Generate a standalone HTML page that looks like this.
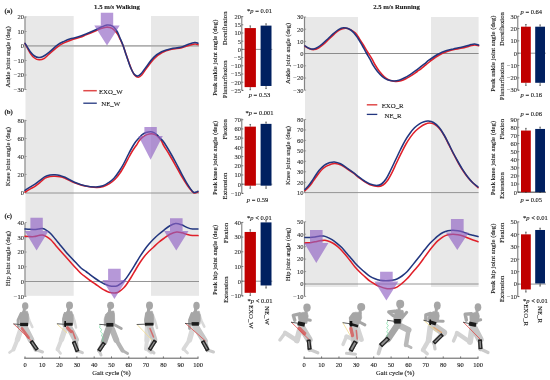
<!DOCTYPE html><html><head><meta charset="utf-8"><title>Joint angles</title>
<style>html,body{margin:0;padding:0;background:#fff;}svg{display:block;}text{font-family:"Liberation Serif", "DejaVu Serif", serif;}</style></head><body>
<svg width="550" height="380" viewBox="0 0 550 380">
<rect x="25.5" y="16" width="48.2" height="279.8" fill="#e8e8e8"/>
<rect x="151" y="16" width="48" height="279.8" fill="#e8e8e8"/>
<rect x="305" y="17" width="53" height="270" fill="#e8e8e8"/>
<rect x="431" y="17" width="47.6" height="270" fill="#e8e8e8"/>
<text x="117" y="8.6" font-size="6.7" text-anchor="middle" font-weight="bold" fill="#1a1a1a" stroke="#1a1a1a" stroke-width="0.12">1.5 m/s Walking</text>
<text x="396.5" y="8.6" font-size="6.7" text-anchor="middle" font-weight="bold" fill="#1a1a1a" stroke="#1a1a1a" stroke-width="0.12">2.5 m/s Running</text>
<text x="4.5" y="12.6" font-size="6.8" text-anchor="start" font-weight="bold" fill="#1a1a1a" stroke="#1a1a1a" stroke-width="0.12">(a)</text>
<text x="4.5" y="114.3" font-size="6.8" text-anchor="start" font-weight="bold" fill="#1a1a1a" stroke="#1a1a1a" stroke-width="0.12">(b)</text>
<text x="4.5" y="218" font-size="6.8" text-anchor="start" font-weight="bold" fill="#1a1a1a" stroke="#1a1a1a" stroke-width="0.12">(c)</text>
<line x1="25" y1="16.5" x2="25" y2="90" stroke="#858585" stroke-width="1.2"/>
<line x1="25" y1="17" x2="26.6" y2="17" stroke="#8a8a8a" stroke-width="0.8"/>
<text x="23.9" y="19.3" font-size="6.5" text-anchor="end" font-weight="normal" fill="#333" stroke="#333" stroke-width="0.12">20</text>
<line x1="25" y1="31.5" x2="26.6" y2="31.5" stroke="#8a8a8a" stroke-width="0.8"/>
<text x="23.9" y="33.8" font-size="6.5" text-anchor="end" font-weight="normal" fill="#333" stroke="#333" stroke-width="0.12">10</text>
<line x1="25" y1="46" x2="26.6" y2="46" stroke="#8a8a8a" stroke-width="0.8"/>
<text x="23.9" y="48.3" font-size="6.5" text-anchor="end" font-weight="normal" fill="#333" stroke="#333" stroke-width="0.12">0</text>
<line x1="25" y1="60.5" x2="26.6" y2="60.5" stroke="#8a8a8a" stroke-width="0.8"/>
<text x="23.9" y="62.8" font-size="6.5" text-anchor="end" font-weight="normal" fill="#333" stroke="#333" stroke-width="0.12">&#8722;10</text>
<line x1="25" y1="75" x2="26.6" y2="75" stroke="#8a8a8a" stroke-width="0.8"/>
<text x="23.9" y="77.3" font-size="6.5" text-anchor="end" font-weight="normal" fill="#333" stroke="#333" stroke-width="0.12">&#8722;20</text>
<line x1="25" y1="89.5" x2="26.6" y2="89.5" stroke="#8a8a8a" stroke-width="0.8"/>
<text x="23.9" y="91.8" font-size="6.5" text-anchor="end" font-weight="normal" fill="#333" stroke="#333" stroke-width="0.12">&#8722;30</text>
<line x1="25" y1="45.9" x2="199" y2="45.9" stroke="#b0b0b0" stroke-width="1.8"/>
<text x="10.4" y="56.9" font-size="6.6" text-anchor="middle" font-weight="normal" fill="#1a1a1a" stroke="#1a1a1a" stroke-width="0.12" transform="rotate(-90 10.4 56.9)">Ankle joint angle (deg)</text>
<path d="M25,43.5 C25.88,45.13 28.72,50.88 30.3,53.3 C31.88,55.72 33.03,56.92 34.5,58 C35.97,59.08 37.52,59.7 39.1,59.8 C40.68,59.9 42.35,59.53 44,58.6 C45.65,57.67 46.73,56.17 49,54.2 C51.27,52.23 55.1,48.68 57.6,46.8 C60.1,44.92 61.72,44.05 64,42.9 C66.28,41.75 68.63,40.83 71.3,39.9 C73.97,38.97 77.55,38.13 80,37.3 C82.45,36.47 83.45,35.95 86,34.9 C88.55,33.85 92.8,32.07 95.3,31 C97.8,29.93 99.22,29.13 101,28.5 C102.78,27.87 104.5,27.35 106,27.2 C107.5,27.05 108.67,27.17 110,27.6 C111.33,28.03 112.73,28.7 114,29.8 C115.27,30.9 116.52,32.5 117.6,34.2 C118.68,35.9 119.53,37.95 120.5,40 C121.47,42.05 122.45,44.03 123.4,46.5 C124.35,48.97 125.27,52.08 126.2,54.8 C127.13,57.52 128.08,60.3 129,62.8 C129.92,65.3 130.75,67.73 131.7,69.8 C132.65,71.87 133.6,73.97 134.7,75.2 C135.8,76.43 137.13,77.23 138.3,77.2 C139.47,77.17 140.33,76.5 141.7,75 C143.07,73.5 144.38,70.97 146.5,68.2 C148.62,65.43 151.78,61.02 154.4,58.4 C157.02,55.78 159.35,54.02 162.2,52.5 C165.05,50.98 168.37,50.07 171.5,49.3 C174.63,48.53 178.08,48.53 181,47.9 C183.92,47.27 186.67,46.15 189,45.5 C191.33,44.85 193.5,44.15 195,44 C196.5,43.85 197.5,44.5 198,44.6" fill="none" stroke="#e0202a" stroke-width="1.55" stroke-linejoin="round" stroke-linecap="round"/>
<path d="M25,43.3 C25.88,44.72 28.72,49.68 30.3,51.8 C31.88,53.92 33.08,55.05 34.5,56 C35.92,56.95 37.38,57.42 38.8,57.5 C40.22,57.58 41.3,57.37 43,56.5 C44.7,55.63 46.57,54.23 49,52.3 C51.43,50.37 55.1,46.72 57.6,44.9 C60.1,43.08 61.72,42.45 64,41.4 C66.28,40.35 68.63,39.45 71.3,38.6 C73.97,37.75 77.55,37.07 80,36.3 C82.45,35.53 83.45,35.05 86,34 C88.55,32.95 92.63,31.2 95.3,30 C97.97,28.8 100.05,27.63 102,26.8 C103.95,25.97 105.58,25.25 107,25 C108.42,24.75 109.33,24.93 110.5,25.3 C111.67,25.67 112.85,26.08 114,27.2 C115.15,28.32 116.4,30.2 117.4,32 C118.4,33.8 119.08,35.83 120,38 C120.92,40.17 121.98,42.5 122.9,45 C123.82,47.5 124.58,50.23 125.5,53 C126.42,55.77 127.48,59.02 128.4,61.6 C129.32,64.18 130.07,66.43 131,68.5 C131.93,70.57 132.9,72.73 134,74 C135.1,75.27 136.43,76.13 137.6,76.1 C138.77,76.07 139.63,75.25 141,73.8 C142.37,72.35 143.68,70.13 145.8,67.4 C147.92,64.67 151.07,60 153.7,57.4 C156.33,54.8 158.72,53.25 161.6,51.8 C164.48,50.35 167.85,49.45 171,48.7 C174.15,47.95 177.58,48.05 180.5,47.3 C183.42,46.55 186.12,45 188.5,44.2 C190.88,43.4 193.22,42.67 194.8,42.5 C196.38,42.33 197.47,43.08 198,43.2" fill="none" stroke="#22367f" stroke-width="1.55" stroke-linejoin="round" stroke-linecap="round"/>
<polygon points="100.8,12.7 113.2,12.7 113.2,25.6 119.7,25.6 107,45.5 94.3,25.6 100.8,25.6" fill="#8f61c3" fill-opacity="0.65"/>
<line x1="83.3" y1="90.7" x2="96.8" y2="90.7" stroke="#e04a4a" stroke-width="1.5"/>
<text x="98.9" y="93.9" font-size="6.8" text-anchor="start" font-weight="normal" fill="#1a1a1a" stroke="#1a1a1a" stroke-width="0.12">EXO_W</text>
<line x1="83.3" y1="103.2" x2="96.8" y2="103.2" stroke="#22367f" stroke-width="1.3"/>
<text x="101.3" y="106.4" font-size="6.8" text-anchor="start" font-weight="normal" fill="#1a1a1a" stroke="#1a1a1a" stroke-width="0.12">NE_W</text>
<line x1="25" y1="119.8" x2="25" y2="192.4" stroke="#858585" stroke-width="1.2"/>
<line x1="25" y1="120.6" x2="26.6" y2="120.6" stroke="#8a8a8a" stroke-width="0.8"/>
<text x="23.9" y="122.9" font-size="6.5" text-anchor="end" font-weight="normal" fill="#333" stroke="#333" stroke-width="0.12">80</text>
<line x1="25" y1="138.55" x2="26.6" y2="138.55" stroke="#8a8a8a" stroke-width="0.8"/>
<text x="23.9" y="140.85" font-size="6.5" text-anchor="end" font-weight="normal" fill="#333" stroke="#333" stroke-width="0.12">60</text>
<line x1="25" y1="156.5" x2="26.6" y2="156.5" stroke="#8a8a8a" stroke-width="0.8"/>
<text x="23.9" y="158.8" font-size="6.5" text-anchor="end" font-weight="normal" fill="#333" stroke="#333" stroke-width="0.12">40</text>
<line x1="25" y1="174.45" x2="26.6" y2="174.45" stroke="#8a8a8a" stroke-width="0.8"/>
<text x="23.9" y="176.75" font-size="6.5" text-anchor="end" font-weight="normal" fill="#333" stroke="#333" stroke-width="0.12">20</text>
<line x1="25" y1="192.4" x2="26.6" y2="192.4" stroke="#8a8a8a" stroke-width="0.8"/>
<text x="23.9" y="194.7" font-size="6.5" text-anchor="end" font-weight="normal" fill="#333" stroke="#333" stroke-width="0.12">0</text>
<line x1="25" y1="193" x2="199" y2="193" stroke="#8a8a8a" stroke-width="0.9"/>
<text x="10.4" y="156.7" font-size="6.6" text-anchor="middle" font-weight="normal" fill="#1a1a1a" stroke="#1a1a1a" stroke-width="0.12" transform="rotate(-90 10.4 156.7)">Knee joint angle (deg)</text>
<path d="M25,192.2 C25.83,191.68 28.33,190.08 30,189.1 C31.67,188.12 33.33,187.4 35,186.3 C36.67,185.2 38.33,183.85 40,182.5 C41.67,181.15 43.33,179.2 45,178.2 C46.67,177.2 48.33,176.82 50,176.5 C51.67,176.18 53.33,176.25 55,176.3 C56.67,176.35 58.33,176.47 60,176.8 C61.67,177.13 62.58,177.32 65,178.3 C67.42,179.28 71.17,181.42 74.5,182.7 C77.83,183.98 81.33,185.2 85,186 C88.67,186.8 93.42,187.42 96.5,187.5 C99.58,187.58 101.33,187.15 103.5,186.5 C105.67,185.85 107.58,184.8 109.5,183.6 C111.42,182.4 113.25,181.07 115,179.3 C116.75,177.53 118.37,175.38 120,173 C121.63,170.62 123.25,167.75 124.8,165 C126.35,162.25 127.98,158.92 129.3,156.5 C130.62,154.08 131.55,152.33 132.7,150.5 C133.85,148.67 135.12,147.12 136.2,145.5 C137.28,143.88 138.12,142.18 139.2,140.8 C140.28,139.42 141.4,138.23 142.7,137.2 C144,136.17 145.53,135.18 147,134.6 C148.47,134.02 150.17,133.7 151.5,133.7 C152.83,133.7 153.92,134.08 155,134.6 C156.08,135.12 156.92,135.73 158,136.8 C159.08,137.87 160.55,139.55 161.5,141 C162.45,142.45 162.35,143.17 163.7,145.5 C165.05,147.83 167.63,151.7 169.6,155 C171.57,158.3 173.52,161.77 175.5,165.3 C177.48,168.83 179.48,172.78 181.5,176.2 C183.52,179.62 185.93,183.38 187.6,185.8 C189.27,188.22 190.43,189.5 191.5,190.7 C192.57,191.9 193.17,192.68 194,193 C194.83,193.32 195.83,192.77 196.5,192.6 C197.17,192.43 197.75,192.1 198,192" fill="none" stroke="#e0202a" stroke-width="1.55" stroke-linejoin="round" stroke-linecap="round"/>
<path d="M25,190.3 C25.83,189.77 28.33,188.12 30,187.1 C31.67,186.08 33.33,185.32 35,184.2 C36.67,183.08 38.33,181.67 40,180.4 C41.67,179.13 43.33,177.5 45,176.6 C46.67,175.7 48.33,175.3 50,175 C51.67,174.7 53.33,174.7 55,174.8 C56.67,174.9 58.33,175.18 60,175.6 C61.67,176.02 62.58,176.2 65,177.3 C67.42,178.4 71.17,180.8 74.5,182.2 C77.83,183.6 81.47,184.9 85,185.7 C88.53,186.5 92.7,186.98 95.7,187 C98.7,187.02 100.83,186.53 103,185.8 C105.17,185.07 106.87,183.87 108.7,182.6 C110.53,181.33 112.28,180.05 114,178.2 C115.72,176.35 117.37,173.95 119,171.5 C120.63,169.05 122.25,166.33 123.8,163.5 C125.35,160.67 127.02,157 128.3,154.5 C129.58,152 130.42,150.42 131.5,148.5 C132.58,146.58 133.63,144.67 134.8,143 C135.97,141.33 137.32,139.85 138.5,138.5 C139.68,137.15 140.65,135.88 141.9,134.9 C143.15,133.92 144.53,133.13 146,132.6 C147.47,132.07 149.37,131.7 150.7,131.7 C152.03,131.7 152.95,132.08 154,132.6 C155.05,133.12 155.92,133.82 157,134.8 C158.08,135.78 159.38,137.3 160.5,138.5 C161.62,139.7 162.18,139.83 163.7,142 C165.22,144.17 167.63,148.17 169.6,151.5 C171.57,154.83 173.52,158.32 175.5,162 C177.48,165.68 179.52,169.9 181.5,173.6 C183.48,177.3 185.82,181.55 187.4,184.2 C188.98,186.85 189.98,188.15 191,189.5 C192.02,190.85 192.67,191.87 193.5,192.3 C194.33,192.73 195.25,192.27 196,192.1 C196.75,191.93 197.67,191.43 198,191.3" fill="none" stroke="#22367f" stroke-width="1.55" stroke-linejoin="round" stroke-linecap="round"/>
<polygon points="144.4,127 156.8,127 156.8,136 162.8,136 150.6,159.8 138.4,136 144.4,136" fill="#8f61c3" fill-opacity="0.65"/>
<line x1="25" y1="222.8" x2="25" y2="297" stroke="#858585" stroke-width="1.2"/>
<line x1="25" y1="222.54" x2="26.6" y2="222.54" stroke="#8a8a8a" stroke-width="0.8"/>
<text x="23.9" y="224.84" font-size="6.5" text-anchor="end" font-weight="normal" fill="#333" stroke="#333" stroke-width="0.12">40</text>
<line x1="25" y1="237.28" x2="26.6" y2="237.28" stroke="#8a8a8a" stroke-width="0.8"/>
<text x="23.9" y="239.58" font-size="6.5" text-anchor="end" font-weight="normal" fill="#333" stroke="#333" stroke-width="0.12">30</text>
<line x1="25" y1="252.02" x2="26.6" y2="252.02" stroke="#8a8a8a" stroke-width="0.8"/>
<text x="23.9" y="254.32" font-size="6.5" text-anchor="end" font-weight="normal" fill="#333" stroke="#333" stroke-width="0.12">20</text>
<line x1="25" y1="266.76" x2="26.6" y2="266.76" stroke="#8a8a8a" stroke-width="0.8"/>
<text x="23.9" y="269.06" font-size="6.5" text-anchor="end" font-weight="normal" fill="#333" stroke="#333" stroke-width="0.12">10</text>
<line x1="25" y1="281.5" x2="26.6" y2="281.5" stroke="#8a8a8a" stroke-width="0.8"/>
<text x="23.9" y="283.8" font-size="6.5" text-anchor="end" font-weight="normal" fill="#333" stroke="#333" stroke-width="0.12">0</text>
<line x1="25" y1="296.24" x2="26.6" y2="296.24" stroke="#8a8a8a" stroke-width="0.8"/>
<text x="23.9" y="298.54" font-size="6.5" text-anchor="end" font-weight="normal" fill="#333" stroke="#333" stroke-width="0.12">&#8722;10</text>
<line x1="25" y1="281.5" x2="199" y2="281.5" stroke="#8a8a8a" stroke-width="0.9"/>
<text x="10.4" y="258.6" font-size="6.6" text-anchor="middle" font-weight="normal" fill="#1a1a1a" stroke="#1a1a1a" stroke-width="0.12" transform="rotate(-90 10.4 258.6)">Hip joint angle (deg)</text>
<path d="M25,236.2 C25.75,236.27 27.97,236.53 29.5,236.6 C31.03,236.67 32.7,236.77 34.2,236.6 C35.7,236.43 37.12,235.87 38.5,235.6 C39.88,235.33 41.17,234.83 42.5,235 C43.83,235.17 45.12,235.8 46.5,236.6 C47.88,237.4 49.3,238.37 50.8,239.8 C52.3,241.23 53.92,243.38 55.5,245.2 C57.08,247.02 58.63,248.8 60.3,250.7 C61.97,252.6 63.72,254.6 65.5,256.6 C67.28,258.6 69.17,260.68 71,262.7 C72.83,264.72 74.73,266.82 76.5,268.7 C78.27,270.58 80.02,272.57 81.6,274 C83.18,275.43 84.6,276.22 86,277.3 C87.4,278.38 88.45,279.38 90,280.5 C91.55,281.62 93.63,282.87 95.3,284 C96.97,285.13 98.47,286.28 100,287.3 C101.53,288.32 103,289.28 104.5,290.1 C106,290.92 107.42,291.72 109,292.2 C110.58,292.68 112.58,292.95 114,293 C115.42,293.05 116.42,292.88 117.5,292.5 C118.58,292.12 119.5,291.45 120.5,290.7 C121.5,289.95 122.5,289.03 123.5,288 C124.5,286.97 125.25,286.25 126.5,284.5 C127.75,282.75 129.37,280.17 131,277.5 C132.63,274.83 134.72,271.12 136.3,268.5 C137.88,265.88 139.07,263.92 140.5,261.8 C141.93,259.68 143.48,257.57 144.9,255.8 C146.32,254.03 147.58,252.63 149,251.2 C150.42,249.77 151.82,248.65 153.4,247.2 C154.98,245.75 156.78,243.95 158.5,242.5 C160.22,241.05 161.78,239.88 163.7,238.5 C165.62,237.12 167.83,235.28 170,234.2 C172.17,233.12 174.7,232.23 176.7,232 C178.7,231.77 180.22,232.4 182,232.8 C183.78,233.2 185.65,233.97 187.4,234.4 C189.15,234.83 190.73,235.2 192.5,235.4 C194.27,235.6 197.08,235.57 198,235.6" fill="none" stroke="#e0202a" stroke-width="1.55" stroke-linejoin="round" stroke-linecap="round"/>
<path d="M25,229 C25.75,229.05 27.97,229.23 29.5,229.3 C31.03,229.37 32.7,229.45 34.2,229.4 C35.7,229.35 37.12,229.13 38.5,229 C39.88,228.87 41.17,228.38 42.5,228.6 C43.83,228.82 45.12,229.45 46.5,230.3 C47.88,231.15 49.3,232.2 50.8,233.7 C52.3,235.2 53.92,237.38 55.5,239.3 C57.08,241.22 58.63,243.18 60.3,245.2 C61.97,247.22 63.72,249.35 65.5,251.4 C67.28,253.45 69.17,255.52 71,257.5 C72.83,259.48 74.73,261.47 76.5,263.3 C78.27,265.13 80.02,267.13 81.6,268.5 C83.18,269.87 84.6,270.48 86,271.5 C87.4,272.52 88.45,273.43 90,274.6 C91.55,275.77 93.63,277.33 95.3,278.5 C96.97,279.67 98.47,280.68 100,281.6 C101.53,282.52 103,283.32 104.5,284 C106,284.68 107.42,285.32 109,285.7 C110.58,286.08 112.58,286.3 114,286.3 C115.42,286.3 116.42,286.1 117.5,285.7 C118.58,285.3 119.5,284.62 120.5,283.9 C121.5,283.18 122.5,282.4 123.5,281.4 C124.5,280.4 125.25,279.6 126.5,277.9 C127.75,276.2 129.37,273.77 131,271.2 C132.63,268.63 134.72,265.08 136.3,262.5 C137.88,259.92 139.07,257.92 140.5,255.7 C141.93,253.48 143.48,251.15 144.9,249.2 C146.32,247.25 147.58,245.67 149,244 C150.42,242.33 151.82,240.78 153.4,239.2 C154.98,237.62 156.78,235.98 158.5,234.5 C160.22,233.02 161.87,231.72 163.7,230.3 C165.53,228.88 167.53,227.12 169.5,226 C171.47,224.88 173.5,223.8 175.5,223.6 C177.5,223.4 179.52,224.13 181.5,224.8 C183.48,225.47 185.57,226.9 187.4,227.6 C189.23,228.3 190.73,228.77 192.5,229 C194.27,229.23 197.08,229 198,229" fill="none" stroke="#22367f" stroke-width="1.55" stroke-linejoin="round" stroke-linecap="round"/>
<polygon points="30.4,217.8 42.8,217.8 42.8,230.9 48.5,230.9 36.6,250.5 24.7,230.9 30.4,230.9" fill="#8f61c3" fill-opacity="0.65"/>
<polygon points="108.1,268.7 120.7,268.7 120.7,280 126.4,280 114.4,299 102.4,280 108.1,280" fill="#8f61c3" fill-opacity="0.65"/>
<polygon points="170,218.3 182.6,218.3 182.6,231 188.5,231 176.3,250.5 164.1,231 170,231" fill="#8f61c3" fill-opacity="0.65"/>
<line x1="304.5" y1="16.8" x2="304.5" y2="90.3" stroke="#858585" stroke-width="1.2"/>
<line x1="304.5" y1="17" x2="306.1" y2="17" stroke="#8a8a8a" stroke-width="0.8"/>
<text x="303.4" y="19.3" font-size="6.5" text-anchor="end" font-weight="normal" fill="#333" stroke="#333" stroke-width="0.12">30</text>
<line x1="304.5" y1="29.2" x2="306.1" y2="29.2" stroke="#8a8a8a" stroke-width="0.8"/>
<text x="303.4" y="31.5" font-size="6.5" text-anchor="end" font-weight="normal" fill="#333" stroke="#333" stroke-width="0.12">20</text>
<line x1="304.5" y1="41.4" x2="306.1" y2="41.4" stroke="#8a8a8a" stroke-width="0.8"/>
<text x="303.4" y="43.7" font-size="6.5" text-anchor="end" font-weight="normal" fill="#333" stroke="#333" stroke-width="0.12">10</text>
<line x1="304.5" y1="53.6" x2="306.1" y2="53.6" stroke="#8a8a8a" stroke-width="0.8"/>
<text x="303.4" y="55.9" font-size="6.5" text-anchor="end" font-weight="normal" fill="#333" stroke="#333" stroke-width="0.12">0</text>
<line x1="304.5" y1="65.8" x2="306.1" y2="65.8" stroke="#8a8a8a" stroke-width="0.8"/>
<text x="303.4" y="68.1" font-size="6.5" text-anchor="end" font-weight="normal" fill="#333" stroke="#333" stroke-width="0.12">&#8722;10</text>
<line x1="304.5" y1="78" x2="306.1" y2="78" stroke="#8a8a8a" stroke-width="0.8"/>
<text x="303.4" y="80.3" font-size="6.5" text-anchor="end" font-weight="normal" fill="#333" stroke="#333" stroke-width="0.12">&#8722;20</text>
<line x1="304.5" y1="90.2" x2="306.1" y2="90.2" stroke="#8a8a8a" stroke-width="0.8"/>
<text x="303.4" y="92.5" font-size="6.5" text-anchor="end" font-weight="normal" fill="#333" stroke="#333" stroke-width="0.12">&#8722;30</text>
<line x1="304.5" y1="53.5" x2="478.6" y2="53.5" stroke="#808080" stroke-width="0.9"/>
<text x="289.8" y="53.4" font-size="6.6" text-anchor="middle" font-weight="normal" fill="#1a1a1a" stroke="#1a1a1a" stroke-width="0.12" transform="rotate(-90 289.8 53.4)">Ankle joint angle (deg)</text>
<path d="M305,46.3 C305.75,46.7 308,48.15 309.5,48.7 C311,49.25 312.5,49.72 314,49.6 C315.5,49.48 317,48.82 318.5,48 C320,47.18 321.28,46.17 323,44.7 C324.72,43.23 326.88,41.02 328.8,39.2 C330.72,37.38 332.67,35.37 334.5,33.8 C336.33,32.23 338.02,30.73 339.8,29.8 C341.58,28.87 343.42,28.23 345.2,28.2 C346.98,28.17 348.78,28.8 350.5,29.6 C352.22,30.4 354.03,31.5 355.5,33 C356.97,34.5 357.98,36.6 359.3,38.6 C360.62,40.6 362.02,42.77 363.4,45 C364.78,47.23 366.2,49.73 367.6,52 C369,54.27 370.53,56.43 371.8,58.6 C373.07,60.77 373.95,62.88 375.2,65 C376.45,67.12 377.78,69.33 379.3,71.3 C380.82,73.27 382.6,75.3 384.3,76.8 C386,78.3 387.63,79.52 389.5,80.3 C391.37,81.08 393.58,81.42 395.5,81.5 C397.42,81.58 399.17,81.32 401,80.8 C402.83,80.28 404.67,79.33 406.5,78.4 C408.33,77.47 410.22,76.35 412,75.2 C413.78,74.05 415.7,72.57 417.2,71.5 C418.7,70.43 419.62,69.87 421,68.8 C422.38,67.73 424,66.32 425.5,65.1 C427,63.88 428.5,62.68 430,61.5 C431.5,60.32 433,59.05 434.5,58 C436,56.95 437.58,56.03 439,55.2 C440.42,54.37 441.53,53.67 443,53 C444.47,52.33 445.97,51.78 447.8,51.2 C449.63,50.62 451.83,49.98 454,49.5 C456.17,49.02 458.55,48.77 460.8,48.3 C463.05,47.83 465.72,47.17 467.5,46.7 C469.28,46.23 470.25,45.78 471.5,45.5 C472.75,45.22 473.82,44.95 475,45 C476.18,45.05 478,45.67 478.6,45.8" fill="none" stroke="#e0202a" stroke-width="1.55" stroke-linejoin="round" stroke-linecap="round"/>
<path d="M305,45.8 C305.67,46.2 307.6,47.65 309,48.2 C310.4,48.75 311.9,49.27 313.4,49.1 C314.9,48.93 316.5,48.08 318,47.2 C319.5,46.32 320.73,45.22 322.4,43.8 C324.07,42.38 326.13,40.43 328,38.7 C329.87,36.97 331.85,34.92 333.6,33.4 C335.35,31.88 336.88,30.53 338.5,29.6 C340.12,28.67 341.63,27.93 343.3,27.8 C344.97,27.67 346.77,28 348.5,28.8 C350.23,29.6 352.13,31.03 353.7,32.6 C355.27,34.17 356.52,36.13 357.9,38.2 C359.28,40.27 360.63,42.62 362,45 C363.37,47.38 364.77,50.13 366.1,52.5 C367.43,54.87 368.78,57 370,59.2 C371.22,61.4 372.15,63.63 373.4,65.7 C374.65,67.77 376,69.78 377.5,71.6 C379,73.42 380.73,75.23 382.4,76.6 C384.07,77.97 385.63,79.08 387.5,79.8 C389.37,80.52 391.68,80.83 393.6,80.9 C395.52,80.97 397.15,80.72 399,80.2 C400.85,79.68 402.78,78.78 404.7,77.8 C406.62,76.82 408.62,75.53 410.5,74.3 C412.38,73.07 414.42,71.57 416,70.4 C417.58,69.23 418.58,68.4 420,67.3 C421.42,66.2 423.02,64.98 424.5,63.8 C425.98,62.62 427.4,61.33 428.9,60.2 C430.4,59.07 432,57.98 433.5,57 C435,56.02 436.48,55.1 437.9,54.3 C439.32,53.5 440.52,52.85 442,52.2 C443.48,51.55 444.88,50.95 446.8,50.4 C448.72,49.85 451.25,49.38 453.5,48.9 C455.75,48.42 458.05,48.02 460.3,47.5 C462.55,46.98 465.22,46.28 467,45.8 C468.78,45.32 469.75,44.9 471,44.6 C472.25,44.3 473.23,43.93 474.5,44 C475.77,44.07 477.92,44.83 478.6,45" fill="none" stroke="#22367f" stroke-width="1.55" stroke-linejoin="round" stroke-linecap="round"/>
<line x1="366.8" y1="104.8" x2="377.3" y2="104.8" stroke="#e04a4a" stroke-width="1.5"/>
<text x="381.7" y="108.2" font-size="6.8" text-anchor="start" font-weight="normal" fill="#1a1a1a" stroke="#1a1a1a" stroke-width="0.12">EXO_R</text>
<line x1="366.8" y1="114.4" x2="377.3" y2="114.4" stroke="#22367f" stroke-width="1.3"/>
<text x="384.5" y="118.2" font-size="6.8" text-anchor="start" font-weight="normal" fill="#1a1a1a" stroke="#1a1a1a" stroke-width="0.12">NE_R</text>
<line x1="304.5" y1="119.5" x2="304.5" y2="192.7" stroke="#858585" stroke-width="1.2"/>
<line x1="304.5" y1="119.48" x2="306.1" y2="119.48" stroke="#8a8a8a" stroke-width="0.8"/>
<text x="303.4" y="121.78" font-size="6.5" text-anchor="end" font-weight="normal" fill="#333" stroke="#333" stroke-width="0.12">80</text>
<line x1="304.5" y1="129.94" x2="306.1" y2="129.94" stroke="#8a8a8a" stroke-width="0.8"/>
<text x="303.4" y="132.24" font-size="6.5" text-anchor="end" font-weight="normal" fill="#333" stroke="#333" stroke-width="0.12">70</text>
<line x1="304.5" y1="140.4" x2="306.1" y2="140.4" stroke="#8a8a8a" stroke-width="0.8"/>
<text x="303.4" y="142.7" font-size="6.5" text-anchor="end" font-weight="normal" fill="#333" stroke="#333" stroke-width="0.12">60</text>
<line x1="304.5" y1="150.86" x2="306.1" y2="150.86" stroke="#8a8a8a" stroke-width="0.8"/>
<text x="303.4" y="153.16" font-size="6.5" text-anchor="end" font-weight="normal" fill="#333" stroke="#333" stroke-width="0.12">50</text>
<line x1="304.5" y1="161.32" x2="306.1" y2="161.32" stroke="#8a8a8a" stroke-width="0.8"/>
<text x="303.4" y="163.62" font-size="6.5" text-anchor="end" font-weight="normal" fill="#333" stroke="#333" stroke-width="0.12">40</text>
<line x1="304.5" y1="171.78" x2="306.1" y2="171.78" stroke="#8a8a8a" stroke-width="0.8"/>
<text x="303.4" y="174.08" font-size="6.5" text-anchor="end" font-weight="normal" fill="#333" stroke="#333" stroke-width="0.12">30</text>
<line x1="304.5" y1="182.24" x2="306.1" y2="182.24" stroke="#8a8a8a" stroke-width="0.8"/>
<text x="303.4" y="184.54" font-size="6.5" text-anchor="end" font-weight="normal" fill="#333" stroke="#333" stroke-width="0.12">20</text>
<line x1="304.5" y1="192.7" x2="306.1" y2="192.7" stroke="#8a8a8a" stroke-width="0.8"/>
<text x="303.4" y="195" font-size="6.5" text-anchor="end" font-weight="normal" fill="#333" stroke="#333" stroke-width="0.12">10</text>
<line x1="304.5" y1="192.6" x2="478.6" y2="192.6" stroke="#8a8a8a" stroke-width="0.9"/>
<text x="289.8" y="155.5" font-size="6.6" text-anchor="middle" font-weight="normal" fill="#1a1a1a" stroke="#1a1a1a" stroke-width="0.12" transform="rotate(-90 289.8 155.5)">Knee joint angle (deg)</text>
<path d="M305,190.6 C305.58,190.05 307.37,188.53 308.5,187.3 C309.63,186.07 310.63,184.78 311.8,183.2 C312.97,181.62 314.3,179.5 315.5,177.8 C316.7,176.1 317.83,174.47 319,173 C320.17,171.53 321.33,170.1 322.5,169 C323.67,167.9 324.67,167.17 326,166.4 C327.33,165.63 329,164.87 330.5,164.4 C332,163.93 333.25,163.5 335,163.6 C336.75,163.7 338.93,164.1 341,165 C343.07,165.9 345.32,167.63 347.4,169 C349.48,170.37 351.53,171.73 353.5,173.2 C355.47,174.67 357.37,176.38 359.2,177.8 C361.03,179.22 362.7,180.55 364.5,181.7 C366.3,182.85 367.75,183.9 370,184.7 C372.25,185.5 375.83,186.45 378,186.5 C380.17,186.55 381.42,186 383,185 C384.58,184 386,182.57 387.5,180.5 C389,178.43 390.5,175.52 392,172.6 C393.5,169.68 394.92,166.32 396.5,163 C398.08,159.68 399.92,155.87 401.5,152.7 C403.08,149.53 404.45,146.68 406,144 C407.55,141.32 409.22,138.77 410.8,136.6 C412.38,134.43 413.88,132.63 415.5,131 C417.12,129.37 418.92,127.93 420.5,126.8 C422.08,125.67 423.5,124.82 425,124.2 C426.5,123.58 427.92,123.07 429.5,123.1 C431.08,123.13 432.78,123.42 434.5,124.4 C436.22,125.38 438.13,127.07 439.8,129 C441.47,130.93 442.97,133.33 444.5,136 C446.03,138.67 447.47,141.95 449,145 C450.53,148.05 452.12,151.25 453.7,154.3 C455.28,157.35 456.92,160.52 458.5,163.3 C460.08,166.08 461.63,168.63 463.2,171 C464.77,173.37 466.27,175.5 467.9,177.5 C469.53,179.5 471.32,181.32 473,183 C474.68,184.68 477.17,186.83 478,187.6" fill="none" stroke="#e0202a" stroke-width="1.55" stroke-linejoin="round" stroke-linecap="round"/>
<path d="M305,189.4 C305.58,188.8 307.37,187.15 308.5,185.8 C309.63,184.45 310.63,183.02 311.8,181.3 C312.97,179.58 314.3,177.28 315.5,175.5 C316.7,173.72 317.83,172.05 319,170.6 C320.17,169.15 321.33,167.85 322.5,166.8 C323.67,165.75 324.75,165 326,164.3 C327.25,163.6 328.6,162.98 330,162.6 C331.4,162.22 332.65,161.8 334.4,162 C336.15,162.2 338.33,162.75 340.5,163.8 C342.67,164.85 345.23,166.82 347.4,168.3 C349.57,169.78 351.53,171.22 353.5,172.7 C355.47,174.18 357.37,175.82 359.2,177.2 C361.03,178.58 362.7,179.87 364.5,181 C366.3,182.13 367.98,183.27 370,184 C372.02,184.73 374.68,185.4 376.6,185.4 C378.52,185.4 379.93,185.07 381.5,184 C383.07,182.93 384.5,181.25 386,179 C387.5,176.75 388.92,173.67 390.5,170.5 C392.08,167.33 393.83,163.5 395.5,160 C397.17,156.5 398.92,152.7 400.5,149.5 C402.08,146.3 403.45,143.47 405,140.8 C406.55,138.13 408.22,135.67 409.8,133.5 C411.38,131.33 412.88,129.42 414.5,127.8 C416.12,126.18 417.92,124.82 419.5,123.8 C421.08,122.78 422.53,122.15 424,121.7 C425.47,121.25 426.72,120.97 428.3,121.1 C429.88,121.23 431.72,121.47 433.5,122.5 C435.28,123.53 437.28,125.3 439,127.3 C440.72,129.3 442.23,131.85 443.8,134.5 C445.37,137.15 446.87,140.2 448.4,143.2 C449.93,146.2 451.42,149.45 453,152.5 C454.58,155.55 456.28,158.63 457.9,161.5 C459.52,164.37 461.12,167.2 462.7,169.7 C464.28,172.2 465.77,174.37 467.4,176.5 C469.03,178.63 470.73,180.75 472.5,182.5 C474.27,184.25 477.08,186.25 478,187" fill="none" stroke="#22367f" stroke-width="1.55" stroke-linejoin="round" stroke-linecap="round"/>
<line x1="304.5" y1="221.8" x2="304.5" y2="296.5" stroke="#858585" stroke-width="1.2"/>
<line x1="304.5" y1="221.75" x2="306.1" y2="221.75" stroke="#8a8a8a" stroke-width="0.8"/>
<text x="303.4" y="224.05" font-size="6.5" text-anchor="end" font-weight="normal" fill="#333" stroke="#333" stroke-width="0.12">50</text>
<line x1="304.5" y1="234.2" x2="306.1" y2="234.2" stroke="#8a8a8a" stroke-width="0.8"/>
<text x="303.4" y="236.5" font-size="6.5" text-anchor="end" font-weight="normal" fill="#333" stroke="#333" stroke-width="0.12">40</text>
<line x1="304.5" y1="246.65" x2="306.1" y2="246.65" stroke="#8a8a8a" stroke-width="0.8"/>
<text x="303.4" y="248.95" font-size="6.5" text-anchor="end" font-weight="normal" fill="#333" stroke="#333" stroke-width="0.12">30</text>
<line x1="304.5" y1="259.1" x2="306.1" y2="259.1" stroke="#8a8a8a" stroke-width="0.8"/>
<text x="303.4" y="261.4" font-size="6.5" text-anchor="end" font-weight="normal" fill="#333" stroke="#333" stroke-width="0.12">20</text>
<line x1="304.5" y1="271.55" x2="306.1" y2="271.55" stroke="#8a8a8a" stroke-width="0.8"/>
<text x="303.4" y="273.85" font-size="6.5" text-anchor="end" font-weight="normal" fill="#333" stroke="#333" stroke-width="0.12">10</text>
<line x1="304.5" y1="284" x2="306.1" y2="284" stroke="#8a8a8a" stroke-width="0.8"/>
<text x="303.4" y="286.3" font-size="6.5" text-anchor="end" font-weight="normal" fill="#333" stroke="#333" stroke-width="0.12">0</text>
<line x1="304.5" y1="296.45" x2="306.1" y2="296.45" stroke="#8a8a8a" stroke-width="0.8"/>
<text x="303.4" y="298.75" font-size="6.5" text-anchor="end" font-weight="normal" fill="#333" stroke="#333" stroke-width="0.12">&#8722;10</text>
<line x1="304.5" y1="284" x2="478.6" y2="284" stroke="#8a8a8a" stroke-width="0.9"/>
<text x="289.8" y="254.5" font-size="6.4" text-anchor="middle" font-weight="normal" fill="#1a1a1a" stroke="#1a1a1a" stroke-width="0.12" transform="rotate(-90 289.8 254.5)">Hip joint angle (deg)</text>
<path d="M305,242.9 C305.83,242.87 308.33,242.88 310,242.7 C311.67,242.52 313.33,242.12 315,241.8 C316.67,241.48 318.33,241.05 320,240.8 C321.67,240.55 323.33,240.13 325,240.3 C326.67,240.47 328.33,241.1 330,241.8 C331.67,242.5 333.33,243.35 335,244.5 C336.67,245.65 338.33,247.07 340,248.7 C341.67,250.33 343.33,252.33 345,254.3 C346.67,256.27 348.33,258.38 350,260.5 C351.67,262.62 353.33,265.05 355,267 C356.67,268.95 358.33,270.57 360,272.2 C361.67,273.83 363.33,275.3 365,276.8 C366.67,278.3 368.33,279.97 370,281.2 C371.67,282.43 373.33,283.3 375,284.2 C376.67,285.1 378.17,285.88 380,286.6 C381.83,287.32 384,288.18 386,288.5 C388,288.82 390.17,288.73 392,288.5 C393.83,288.27 395.33,287.95 397,287.1 C398.67,286.25 400.33,284.8 402,283.4 C403.67,282 405.67,280.03 407,278.7 C408.33,277.37 408.67,276.93 410,275.4 C411.33,273.87 413.33,271.48 415,269.5 C416.67,267.52 418.33,265.65 420,263.5 C421.67,261.35 423.33,258.88 425,256.6 C426.67,254.32 428.33,251.93 430,249.8 C431.67,247.67 433.67,245.32 435,243.8 C436.33,242.28 436.67,241.87 438,240.7 C439.33,239.53 441.33,237.78 443,236.8 C444.67,235.82 446.33,235.22 448,234.8 C449.67,234.38 451.33,234.3 453,234.3 C454.67,234.3 456.33,234.52 458,234.8 C459.67,235.08 461.33,235.47 463,236 C464.67,236.53 466.33,237.35 468,238 C469.67,238.65 471.33,239.28 473,239.9 C474.67,240.52 477.17,241.4 478,241.7" fill="none" stroke="#e0202a" stroke-width="1.55" stroke-linejoin="round" stroke-linecap="round"/>
<path d="M305,237.4 C305.83,237.4 308.33,237.48 310,237.4 C311.67,237.32 313.33,237.12 315,236.9 C316.67,236.68 318.58,236.25 320,236.1 C321.42,235.95 322.33,235.83 323.5,236 C324.67,236.17 325.58,236.48 327,237.1 C328.42,237.72 330.33,238.65 332,239.7 C333.67,240.75 335.33,242.05 337,243.4 C338.67,244.75 340.5,246.28 342,247.8 C343.5,249.32 344.67,250.97 346,252.5 C347.33,254.03 348.5,255.25 350,257 C351.5,258.75 353.33,261.17 355,263 C356.67,264.83 358.33,266.43 360,268 C361.67,269.57 363.33,271.02 365,272.4 C366.67,273.78 368.33,275.23 370,276.3 C371.67,277.37 373.33,278.13 375,278.8 C376.67,279.47 378.17,279.97 380,280.3 C381.83,280.63 384,280.8 386,280.8 C388,280.8 390.17,280.6 392,280.3 C393.83,280 395.33,279.72 397,279 C398.67,278.28 400.33,277.2 402,276 C403.67,274.8 405.67,273.1 407,271.8 C408.33,270.5 408.67,269.83 410,268.2 C411.33,266.57 413.33,264.08 415,262 C416.67,259.92 418.33,257.82 420,255.7 C421.67,253.58 423.33,251.37 425,249.3 C426.67,247.23 428.33,245.1 430,243.3 C431.67,241.5 433.67,239.75 435,238.5 C436.33,237.25 436.67,236.8 438,235.8 C439.33,234.8 441.33,233.35 443,232.5 C444.67,231.65 446.33,231.08 448,230.7 C449.67,230.32 451.33,230.18 453,230.2 C454.67,230.22 456.33,230.5 458,230.8 C459.67,231.1 461.33,231.48 463,232 C464.67,232.52 466.33,233.35 468,233.9 C469.67,234.45 471.33,234.85 473,235.3 C474.67,235.75 477.17,236.38 478,236.6" fill="none" stroke="#22367f" stroke-width="1.55" stroke-linejoin="round" stroke-linecap="round"/>
<polygon points="310,230 322.6,230 322.6,242.9 328.4,242.9 316.3,263 304.2,242.9 310,242.9" fill="#8f61c3" fill-opacity="0.65"/>
<polygon points="380.1,271.8 392.7,271.8 392.7,281.6 398.3,281.6 386.4,300.5 374.5,281.6 380.1,281.6" fill="#8f61c3" fill-opacity="0.65"/>
<polygon points="450.95,218.9 463.65,218.9 463.65,232.5 468.7,232.5 457.3,250 445.9,232.5 450.95,232.5" fill="#8f61c3" fill-opacity="0.65"/>
<line x1="241.8" y1="49.4" x2="272.3" y2="49.4" stroke="#8a8a8a" stroke-width="0.9"/>
<rect x="244.6" y="28.08" width="11.3" height="59.04" fill="#c00000"/>
<rect x="260.6" y="25.62" width="10.9" height="60.35" fill="#002060"/>
<line x1="250.25" y1="28.08" x2="250.25" y2="25.88" stroke="#111" stroke-width="0.6"/>
<line x1="249.45" y1="25.88" x2="251.05" y2="25.88" stroke="#111" stroke-width="0.5"/>
<line x1="266.05" y1="25.62" x2="266.05" y2="23.82" stroke="#111" stroke-width="0.6"/>
<line x1="265.25" y1="23.82" x2="266.85" y2="23.82" stroke="#111" stroke-width="0.5"/>
<line x1="250.25" y1="87.12" x2="250.25" y2="89.72" stroke="#111" stroke-width="0.6"/>
<line x1="249.45" y1="89.72" x2="251.05" y2="89.72" stroke="#111" stroke-width="0.5"/>
<line x1="266.05" y1="85.97" x2="266.05" y2="88.57" stroke="#111" stroke-width="0.6"/>
<line x1="265.25" y1="88.57" x2="266.85" y2="88.57" stroke="#111" stroke-width="0.5"/>
<line x1="241.8" y1="16" x2="241.8" y2="90.4" stroke="#4d4d4d" stroke-width="0.8"/>
<line x1="241.8" y1="16.6" x2="243.3" y2="16.6" stroke="#4d4d4d" stroke-width="0.7"/>
<text x="240.9" y="18.9" font-size="6.4" text-anchor="end" font-weight="normal" fill="#333" stroke="#333" stroke-width="0.12">20</text>
<line x1="241.8" y1="24.8" x2="243.3" y2="24.8" stroke="#4d4d4d" stroke-width="0.7"/>
<text x="240.9" y="27.1" font-size="6.4" text-anchor="end" font-weight="normal" fill="#333" stroke="#333" stroke-width="0.12">15</text>
<line x1="241.8" y1="33" x2="243.3" y2="33" stroke="#4d4d4d" stroke-width="0.7"/>
<text x="240.9" y="35.3" font-size="6.4" text-anchor="end" font-weight="normal" fill="#333" stroke="#333" stroke-width="0.12">10</text>
<line x1="241.8" y1="41.2" x2="243.3" y2="41.2" stroke="#4d4d4d" stroke-width="0.7"/>
<text x="240.9" y="43.5" font-size="6.4" text-anchor="end" font-weight="normal" fill="#333" stroke="#333" stroke-width="0.12">5</text>
<line x1="241.8" y1="49.4" x2="243.3" y2="49.4" stroke="#4d4d4d" stroke-width="0.7"/>
<text x="240.9" y="51.7" font-size="6.4" text-anchor="end" font-weight="normal" fill="#333" stroke="#333" stroke-width="0.12">0</text>
<line x1="241.8" y1="57.6" x2="243.3" y2="57.6" stroke="#4d4d4d" stroke-width="0.7"/>
<text x="240.9" y="59.9" font-size="6.4" text-anchor="end" font-weight="normal" fill="#333" stroke="#333" stroke-width="0.12">&#8722;5</text>
<line x1="241.8" y1="65.8" x2="243.3" y2="65.8" stroke="#4d4d4d" stroke-width="0.7"/>
<text x="240.9" y="68.1" font-size="6.4" text-anchor="end" font-weight="normal" fill="#333" stroke="#333" stroke-width="0.12">&#8722;10</text>
<line x1="241.8" y1="74" x2="243.3" y2="74" stroke="#4d4d4d" stroke-width="0.7"/>
<text x="240.9" y="76.3" font-size="6.4" text-anchor="end" font-weight="normal" fill="#333" stroke="#333" stroke-width="0.12">&#8722;15</text>
<line x1="241.8" y1="82.2" x2="243.3" y2="82.2" stroke="#4d4d4d" stroke-width="0.7"/>
<text x="240.9" y="84.5" font-size="6.4" text-anchor="end" font-weight="normal" fill="#333" stroke="#333" stroke-width="0.12">&#8722;20</text>
<line x1="241.8" y1="90.4" x2="243.3" y2="90.4" stroke="#4d4d4d" stroke-width="0.7"/>
<text x="240.9" y="92.7" font-size="6.4" text-anchor="end" font-weight="normal" fill="#333" stroke="#333" stroke-width="0.12">&#8722;25</text>
<line x1="241.8" y1="90.4" x2="243.3" y2="90.4" stroke="#4d4d4d" stroke-width="0.7"/>
<text x="259.5" y="13.2" font-size="6.5" text-anchor="middle" fill="#1a1a1a" stroke="#1a1a1a" stroke-width="0.12"><tspan>*</tspan><tspan font-style="italic">p</tspan><tspan> = 0.01</tspan></text>
<text x="259.5" y="96.8" font-size="6.5" text-anchor="middle" fill="#1a1a1a" stroke="#1a1a1a" stroke-width="0.12"><tspan font-style="italic">p</tspan><tspan> = 0.53</tspan></text>
<text x="217.3" y="57.7" font-size="6.8" text-anchor="middle" font-weight="normal" fill="#1a1a1a" stroke="#1a1a1a" stroke-width="0.12" transform="rotate(-90 217.3 57.7)">Peak ankle joint angle (deg)</text>
<text x="227.1" y="28.4" font-size="6.7" text-anchor="middle" font-weight="normal" fill="#1a1a1a" stroke="#1a1a1a" stroke-width="0.12" transform="rotate(-90 227.1 28.4)">Dorsiflexion</text>
<text x="227.1" y="79.3" font-size="6.7" text-anchor="middle" font-weight="normal" fill="#1a1a1a" stroke="#1a1a1a" stroke-width="0.12" transform="rotate(-90 227.1 79.3)">Plantarflexion</text>
<line x1="241.8" y1="184.2" x2="272.3" y2="184.2" stroke="#8a8a8a" stroke-width="0.9"/>
<rect x="244.6" y="126.64" width="11.3" height="59.04" fill="#c00000"/>
<rect x="260.6" y="123.87" width="10.9" height="61.8" fill="#002060"/>
<line x1="250.25" y1="126.64" x2="250.25" y2="124.44" stroke="#111" stroke-width="0.6"/>
<line x1="249.45" y1="124.44" x2="251.05" y2="124.44" stroke="#111" stroke-width="0.5"/>
<line x1="266.05" y1="123.87" x2="266.05" y2="122.07" stroke="#111" stroke-width="0.6"/>
<line x1="265.25" y1="122.07" x2="266.85" y2="122.07" stroke="#111" stroke-width="0.5"/>
<line x1="250.25" y1="185.67" x2="250.25" y2="188.27" stroke="#111" stroke-width="0.6"/>
<line x1="249.45" y1="188.27" x2="251.05" y2="188.27" stroke="#111" stroke-width="0.5"/>
<line x1="266.05" y1="185.67" x2="266.05" y2="188.27" stroke="#111" stroke-width="0.6"/>
<line x1="265.25" y1="188.27" x2="266.85" y2="188.27" stroke="#111" stroke-width="0.5"/>
<line x1="241.8" y1="118.5" x2="241.8" y2="193.41" stroke="#4d4d4d" stroke-width="0.8"/>
<line x1="241.8" y1="119.73" x2="243.3" y2="119.73" stroke="#4d4d4d" stroke-width="0.7"/>
<text x="240.9" y="122.03" font-size="6.4" text-anchor="end" font-weight="normal" fill="#333" stroke="#333" stroke-width="0.12">70</text>
<line x1="241.8" y1="128.94" x2="243.3" y2="128.94" stroke="#4d4d4d" stroke-width="0.7"/>
<text x="240.9" y="131.24" font-size="6.4" text-anchor="end" font-weight="normal" fill="#333" stroke="#333" stroke-width="0.12">60</text>
<line x1="241.8" y1="138.15" x2="243.3" y2="138.15" stroke="#4d4d4d" stroke-width="0.7"/>
<text x="240.9" y="140.45" font-size="6.4" text-anchor="end" font-weight="normal" fill="#333" stroke="#333" stroke-width="0.12">50</text>
<line x1="241.8" y1="147.36" x2="243.3" y2="147.36" stroke="#4d4d4d" stroke-width="0.7"/>
<text x="240.9" y="149.66" font-size="6.4" text-anchor="end" font-weight="normal" fill="#333" stroke="#333" stroke-width="0.12">40</text>
<line x1="241.8" y1="156.57" x2="243.3" y2="156.57" stroke="#4d4d4d" stroke-width="0.7"/>
<text x="240.9" y="158.87" font-size="6.4" text-anchor="end" font-weight="normal" fill="#333" stroke="#333" stroke-width="0.12">30</text>
<line x1="241.8" y1="165.78" x2="243.3" y2="165.78" stroke="#4d4d4d" stroke-width="0.7"/>
<text x="240.9" y="168.08" font-size="6.4" text-anchor="end" font-weight="normal" fill="#333" stroke="#333" stroke-width="0.12">20</text>
<line x1="241.8" y1="174.99" x2="243.3" y2="174.99" stroke="#4d4d4d" stroke-width="0.7"/>
<text x="240.9" y="177.29" font-size="6.4" text-anchor="end" font-weight="normal" fill="#333" stroke="#333" stroke-width="0.12">10</text>
<line x1="241.8" y1="184.2" x2="243.3" y2="184.2" stroke="#4d4d4d" stroke-width="0.7"/>
<text x="240.9" y="186.5" font-size="6.4" text-anchor="end" font-weight="normal" fill="#333" stroke="#333" stroke-width="0.12">0</text>
<line x1="241.8" y1="193.41" x2="243.3" y2="193.41" stroke="#4d4d4d" stroke-width="0.7"/>
<text x="240.9" y="195.71" font-size="6.4" text-anchor="end" font-weight="normal" fill="#333" stroke="#333" stroke-width="0.12">&#8722;10</text>
<line x1="241.8" y1="193.41" x2="243.3" y2="193.41" stroke="#4d4d4d" stroke-width="0.7"/>
<text x="259.5" y="114.8" font-size="6.5" text-anchor="middle" fill="#1a1a1a" stroke="#1a1a1a" stroke-width="0.12"><tspan>*</tspan><tspan font-style="italic">p</tspan><tspan> = 0.001</tspan></text>
<text x="257.6" y="202.1" font-size="6.5" text-anchor="middle" fill="#1a1a1a" stroke="#1a1a1a" stroke-width="0.12"><tspan font-style="italic">p</tspan><tspan> = 0.59</tspan></text>
<text x="217.1" y="157.9" font-size="6.8" text-anchor="middle" font-weight="normal" fill="#1a1a1a" stroke="#1a1a1a" stroke-width="0.12" transform="rotate(-90 217.1 157.9)">Peak knee joint angle (deg)</text>
<text x="227.3" y="129.3" font-size="6.7" text-anchor="middle" font-weight="normal" fill="#1a1a1a" stroke="#1a1a1a" stroke-width="0.12" transform="rotate(-90 227.3 129.3)">Flexion</text>
<text x="227.3" y="186" font-size="6.7" text-anchor="middle" font-weight="normal" fill="#1a1a1a" stroke="#1a1a1a" stroke-width="0.12" transform="rotate(-90 227.3 186)">Extension</text>
<line x1="241.8" y1="281.2" x2="272.3" y2="281.2" stroke="#8a8a8a" stroke-width="0.9"/>
<rect x="244.6" y="231.95" width="11.3" height="60.86" fill="#c00000"/>
<rect x="260.6" y="222.4" width="10.9" height="63.06" fill="#002060"/>
<line x1="250.25" y1="231.95" x2="250.25" y2="229.75" stroke="#111" stroke-width="0.6"/>
<line x1="249.45" y1="229.75" x2="251.05" y2="229.75" stroke="#111" stroke-width="0.5"/>
<line x1="266.05" y1="222.4" x2="266.05" y2="220.6" stroke="#111" stroke-width="0.6"/>
<line x1="265.25" y1="220.6" x2="266.85" y2="220.6" stroke="#111" stroke-width="0.5"/>
<line x1="250.25" y1="292.81" x2="250.25" y2="295.41" stroke="#111" stroke-width="0.6"/>
<line x1="249.45" y1="295.41" x2="251.05" y2="295.41" stroke="#111" stroke-width="0.5"/>
<line x1="266.05" y1="285.46" x2="266.05" y2="288.06" stroke="#111" stroke-width="0.6"/>
<line x1="265.25" y1="288.06" x2="266.85" y2="288.06" stroke="#111" stroke-width="0.5"/>
<line x1="241.8" y1="222" x2="241.8" y2="295.9" stroke="#4d4d4d" stroke-width="0.8"/>
<line x1="241.8" y1="222.4" x2="243.3" y2="222.4" stroke="#4d4d4d" stroke-width="0.7"/>
<text x="240.9" y="224.7" font-size="6.4" text-anchor="end" font-weight="normal" fill="#333" stroke="#333" stroke-width="0.12">40</text>
<line x1="241.8" y1="237.1" x2="243.3" y2="237.1" stroke="#4d4d4d" stroke-width="0.7"/>
<text x="240.9" y="239.4" font-size="6.4" text-anchor="end" font-weight="normal" fill="#333" stroke="#333" stroke-width="0.12">30</text>
<line x1="241.8" y1="251.8" x2="243.3" y2="251.8" stroke="#4d4d4d" stroke-width="0.7"/>
<text x="240.9" y="254.1" font-size="6.4" text-anchor="end" font-weight="normal" fill="#333" stroke="#333" stroke-width="0.12">20</text>
<line x1="241.8" y1="266.5" x2="243.3" y2="266.5" stroke="#4d4d4d" stroke-width="0.7"/>
<text x="240.9" y="268.8" font-size="6.4" text-anchor="end" font-weight="normal" fill="#333" stroke="#333" stroke-width="0.12">10</text>
<line x1="241.8" y1="281.2" x2="243.3" y2="281.2" stroke="#4d4d4d" stroke-width="0.7"/>
<text x="240.9" y="283.5" font-size="6.4" text-anchor="end" font-weight="normal" fill="#333" stroke="#333" stroke-width="0.12">0</text>
<line x1="241.8" y1="295.9" x2="243.3" y2="295.9" stroke="#4d4d4d" stroke-width="0.7"/>
<text x="240.9" y="298.2" font-size="6.4" text-anchor="end" font-weight="normal" fill="#333" stroke="#333" stroke-width="0.12">&#8722;10</text>
<line x1="241.8" y1="295.9" x2="243.3" y2="295.9" stroke="#4d4d4d" stroke-width="0.7"/>
<text x="259.4" y="219.5" font-size="6.5" text-anchor="middle" fill="#1a1a1a" stroke="#1a1a1a" stroke-width="0.12"><tspan>*</tspan><tspan font-style="italic">p</tspan><tspan> &lt; 0.01</tspan></text>
<text x="260" y="303.2" font-size="6.5" text-anchor="middle" fill="#1a1a1a" stroke="#1a1a1a" stroke-width="0.12"><tspan>*</tspan><tspan font-style="italic">p</tspan><tspan> &lt; 0.01</tspan></text>
<text x="216.9" y="259.9" font-size="6.8" text-anchor="middle" font-weight="normal" fill="#1a1a1a" stroke="#1a1a1a" stroke-width="0.12" transform="rotate(-90 216.9 259.9)">Peak hip joint angle (deg)</text>
<text x="227.8" y="233" font-size="6.7" text-anchor="middle" font-weight="normal" fill="#1a1a1a" stroke="#1a1a1a" stroke-width="0.12" transform="rotate(-90 227.8 233)">Flexion</text>
<text x="227.8" y="289.7" font-size="6.7" text-anchor="middle" font-weight="normal" fill="#1a1a1a" stroke="#1a1a1a" stroke-width="0.12" transform="rotate(-90 227.8 289.7)">Extension</text>
<line x1="517.8" y1="53.2" x2="545.8" y2="53.2" stroke="#8a8a8a" stroke-width="0.9"/>
<rect x="521" y="26.69" width="9.8" height="56.1" fill="#c00000"/>
<rect x="535.2" y="26.69" width="9.8" height="56.1" fill="#002060"/>
<line x1="525.9" y1="26.69" x2="525.9" y2="24.49" stroke="#111" stroke-width="0.6"/>
<line x1="525.1" y1="24.49" x2="526.7" y2="24.49" stroke="#111" stroke-width="0.5"/>
<line x1="540.1" y1="26.69" x2="540.1" y2="24.89" stroke="#111" stroke-width="0.6"/>
<line x1="539.3" y1="24.89" x2="540.9" y2="24.89" stroke="#111" stroke-width="0.5"/>
<line x1="525.9" y1="82.79" x2="525.9" y2="85.39" stroke="#111" stroke-width="0.6"/>
<line x1="525.1" y1="85.39" x2="526.7" y2="85.39" stroke="#111" stroke-width="0.5"/>
<line x1="540.1" y1="82.79" x2="540.1" y2="85.39" stroke="#111" stroke-width="0.6"/>
<line x1="539.3" y1="85.39" x2="540.9" y2="85.39" stroke="#111" stroke-width="0.5"/>
<line x1="517.8" y1="16" x2="517.8" y2="90.19" stroke="#4d4d4d" stroke-width="0.8"/>
<line x1="517.8" y1="16.21" x2="519.3" y2="16.21" stroke="#4d4d4d" stroke-width="0.7"/>
<text x="516.9" y="18.51" font-size="6.4" text-anchor="end" font-weight="normal" fill="#333" stroke="#333" stroke-width="0.12">30</text>
<line x1="517.8" y1="28.54" x2="519.3" y2="28.54" stroke="#4d4d4d" stroke-width="0.7"/>
<text x="516.9" y="30.84" font-size="6.4" text-anchor="end" font-weight="normal" fill="#333" stroke="#333" stroke-width="0.12">20</text>
<line x1="517.8" y1="40.87" x2="519.3" y2="40.87" stroke="#4d4d4d" stroke-width="0.7"/>
<text x="516.9" y="43.17" font-size="6.4" text-anchor="end" font-weight="normal" fill="#333" stroke="#333" stroke-width="0.12">10</text>
<line x1="517.8" y1="53.2" x2="519.3" y2="53.2" stroke="#4d4d4d" stroke-width="0.7"/>
<text x="516.9" y="55.5" font-size="6.4" text-anchor="end" font-weight="normal" fill="#333" stroke="#333" stroke-width="0.12">0</text>
<line x1="517.8" y1="65.53" x2="519.3" y2="65.53" stroke="#4d4d4d" stroke-width="0.7"/>
<text x="516.9" y="67.83" font-size="6.4" text-anchor="end" font-weight="normal" fill="#333" stroke="#333" stroke-width="0.12">&#8722;10</text>
<line x1="517.8" y1="77.86" x2="519.3" y2="77.86" stroke="#4d4d4d" stroke-width="0.7"/>
<text x="516.9" y="80.16" font-size="6.4" text-anchor="end" font-weight="normal" fill="#333" stroke="#333" stroke-width="0.12">&#8722;20</text>
<line x1="517.8" y1="90.19" x2="519.3" y2="90.19" stroke="#4d4d4d" stroke-width="0.7"/>
<text x="516.9" y="92.49" font-size="6.4" text-anchor="end" font-weight="normal" fill="#333" stroke="#333" stroke-width="0.12">&#8722;30</text>
<line x1="517.8" y1="90.19" x2="519.3" y2="90.19" stroke="#4d4d4d" stroke-width="0.7"/>
<text x="531.3" y="14.3" font-size="6.5" text-anchor="middle" fill="#1a1a1a" stroke="#1a1a1a" stroke-width="0.12"><tspan font-style="italic">p</tspan><tspan> = 0.64</tspan></text>
<text x="531.3" y="96.8" font-size="6.5" text-anchor="middle" fill="#1a1a1a" stroke="#1a1a1a" stroke-width="0.12"><tspan font-style="italic">p</tspan><tspan> = 0.16</tspan></text>
<text x="494.5" y="53.5" font-size="6.8" text-anchor="middle" font-weight="normal" fill="#1a1a1a" stroke="#1a1a1a" stroke-width="0.12" transform="rotate(-90 494.5 53.5)">Peak ankle joint angle (deg)</text>
<text x="504.3" y="29" font-size="6.7" text-anchor="middle" font-weight="normal" fill="#1a1a1a" stroke="#1a1a1a" stroke-width="0.12" transform="rotate(-90 504.3 29)">Dorsiflexion</text>
<text x="504.3" y="81.3" font-size="6.7" text-anchor="middle" font-weight="normal" fill="#1a1a1a" stroke="#1a1a1a" stroke-width="0.12" transform="rotate(-90 504.3 81.3)">Plantarflexion</text>
<line x1="517.8" y1="192.2" x2="545.8" y2="192.2" stroke="#8a8a8a" stroke-width="0.9"/>
<line x1="517.8" y1="192.2" x2="546" y2="192.2" stroke="#4d4d4d" stroke-width="0.8"/>
<rect x="521" y="130.56" width="9.8" height="61.64" fill="#c00000"/>
<rect x="535.2" y="128.94" width="9.8" height="63.26" fill="#002060"/>
<line x1="525.9" y1="130.56" x2="525.9" y2="128.36" stroke="#111" stroke-width="0.6"/>
<line x1="525.1" y1="128.36" x2="526.7" y2="128.36" stroke="#111" stroke-width="0.5"/>
<line x1="540.1" y1="128.94" x2="540.1" y2="127.14" stroke="#111" stroke-width="0.6"/>
<line x1="539.3" y1="127.14" x2="540.9" y2="127.14" stroke="#111" stroke-width="0.5"/>
<line x1="525.9" y1="192.2" x2="525.9" y2="192.2" stroke="#111" stroke-width="0.6"/>
<line x1="525.1" y1="192.2" x2="526.7" y2="192.2" stroke="#111" stroke-width="0.5"/>
<line x1="540.1" y1="192.2" x2="540.1" y2="192.2" stroke="#111" stroke-width="0.6"/>
<line x1="539.3" y1="192.2" x2="540.9" y2="192.2" stroke="#111" stroke-width="0.5"/>
<line x1="517.8" y1="118.8" x2="517.8" y2="192.2" stroke="#4d4d4d" stroke-width="0.8"/>
<line x1="517.8" y1="119.21" x2="519.3" y2="119.21" stroke="#4d4d4d" stroke-width="0.7"/>
<text x="516.9" y="121.51" font-size="6.4" text-anchor="end" font-weight="normal" fill="#333" stroke="#333" stroke-width="0.12">90</text>
<line x1="517.8" y1="127.32" x2="519.3" y2="127.32" stroke="#4d4d4d" stroke-width="0.7"/>
<text x="516.9" y="129.62" font-size="6.4" text-anchor="end" font-weight="normal" fill="#333" stroke="#333" stroke-width="0.12">80</text>
<line x1="517.8" y1="135.43" x2="519.3" y2="135.43" stroke="#4d4d4d" stroke-width="0.7"/>
<text x="516.9" y="137.73" font-size="6.4" text-anchor="end" font-weight="normal" fill="#333" stroke="#333" stroke-width="0.12">70</text>
<line x1="517.8" y1="143.54" x2="519.3" y2="143.54" stroke="#4d4d4d" stroke-width="0.7"/>
<text x="516.9" y="145.84" font-size="6.4" text-anchor="end" font-weight="normal" fill="#333" stroke="#333" stroke-width="0.12">60</text>
<line x1="517.8" y1="151.65" x2="519.3" y2="151.65" stroke="#4d4d4d" stroke-width="0.7"/>
<text x="516.9" y="153.95" font-size="6.4" text-anchor="end" font-weight="normal" fill="#333" stroke="#333" stroke-width="0.12">50</text>
<line x1="517.8" y1="159.76" x2="519.3" y2="159.76" stroke="#4d4d4d" stroke-width="0.7"/>
<text x="516.9" y="162.06" font-size="6.4" text-anchor="end" font-weight="normal" fill="#333" stroke="#333" stroke-width="0.12">40</text>
<line x1="517.8" y1="167.87" x2="519.3" y2="167.87" stroke="#4d4d4d" stroke-width="0.7"/>
<text x="516.9" y="170.17" font-size="6.4" text-anchor="end" font-weight="normal" fill="#333" stroke="#333" stroke-width="0.12">30</text>
<line x1="517.8" y1="175.98" x2="519.3" y2="175.98" stroke="#4d4d4d" stroke-width="0.7"/>
<text x="516.9" y="178.28" font-size="6.4" text-anchor="end" font-weight="normal" fill="#333" stroke="#333" stroke-width="0.12">20</text>
<line x1="517.8" y1="184.09" x2="519.3" y2="184.09" stroke="#4d4d4d" stroke-width="0.7"/>
<text x="516.9" y="186.39" font-size="6.4" text-anchor="end" font-weight="normal" fill="#333" stroke="#333" stroke-width="0.12">10</text>
<line x1="517.8" y1="192.2" x2="519.3" y2="192.2" stroke="#4d4d4d" stroke-width="0.7"/>
<text x="516.9" y="194.5" font-size="6.4" text-anchor="end" font-weight="normal" fill="#333" stroke="#333" stroke-width="0.12">0</text>
<line x1="517.8" y1="192.2" x2="519.3" y2="192.2" stroke="#4d4d4d" stroke-width="0.7"/>
<text x="531.3" y="115.8" font-size="6.5" text-anchor="middle" fill="#1a1a1a" stroke="#1a1a1a" stroke-width="0.12"><tspan font-style="italic">p</tspan><tspan> = 0.06</tspan></text>
<text x="531.3" y="202" font-size="6.5" text-anchor="middle" fill="#1a1a1a" stroke="#1a1a1a" stroke-width="0.12"><tspan font-style="italic">p</tspan><tspan> = 0.05</tspan></text>
<text x="494.5" y="158" font-size="6.8" text-anchor="middle" font-weight="normal" fill="#1a1a1a" stroke="#1a1a1a" stroke-width="0.12" transform="rotate(-90 494.5 158)">Peak knee joint angle (deg)</text>
<text x="504.1" y="129.2" font-size="6.7" text-anchor="middle" font-weight="normal" fill="#1a1a1a" stroke="#1a1a1a" stroke-width="0.12" transform="rotate(-90 504.1 129.2)">Flexion</text>
<text x="504.1" y="185.6" font-size="6.7" text-anchor="middle" font-weight="normal" fill="#1a1a1a" stroke="#1a1a1a" stroke-width="0.12" transform="rotate(-90 504.1 185.6)">Extension</text>
<line x1="517.8" y1="284.1" x2="545.8" y2="284.1" stroke="#8a8a8a" stroke-width="0.9"/>
<rect x="521" y="234.34" width="9.8" height="55.11" fill="#c00000"/>
<rect x="535.2" y="229.99" width="9.8" height="53.49" fill="#002060"/>
<line x1="525.9" y1="234.34" x2="525.9" y2="232.14" stroke="#111" stroke-width="0.6"/>
<line x1="525.1" y1="232.14" x2="526.7" y2="232.14" stroke="#111" stroke-width="0.5"/>
<line x1="540.1" y1="229.99" x2="540.1" y2="228.19" stroke="#111" stroke-width="0.6"/>
<line x1="539.3" y1="228.19" x2="540.9" y2="228.19" stroke="#111" stroke-width="0.5"/>
<line x1="525.9" y1="289.45" x2="525.9" y2="292.05" stroke="#111" stroke-width="0.6"/>
<line x1="525.1" y1="292.05" x2="526.7" y2="292.05" stroke="#111" stroke-width="0.5"/>
<line x1="540.1" y1="283.48" x2="540.1" y2="286.08" stroke="#111" stroke-width="0.6"/>
<line x1="539.3" y1="286.08" x2="540.9" y2="286.08" stroke="#111" stroke-width="0.5"/>
<line x1="517.8" y1="221.5" x2="517.8" y2="296.54" stroke="#4d4d4d" stroke-width="0.8"/>
<line x1="517.8" y1="221.9" x2="519.3" y2="221.9" stroke="#4d4d4d" stroke-width="0.7"/>
<text x="516.9" y="224.2" font-size="6.4" text-anchor="end" font-weight="normal" fill="#333" stroke="#333" stroke-width="0.12">50</text>
<line x1="517.8" y1="234.34" x2="519.3" y2="234.34" stroke="#4d4d4d" stroke-width="0.7"/>
<text x="516.9" y="236.64" font-size="6.4" text-anchor="end" font-weight="normal" fill="#333" stroke="#333" stroke-width="0.12">40</text>
<line x1="517.8" y1="246.78" x2="519.3" y2="246.78" stroke="#4d4d4d" stroke-width="0.7"/>
<text x="516.9" y="249.08" font-size="6.4" text-anchor="end" font-weight="normal" fill="#333" stroke="#333" stroke-width="0.12">30</text>
<line x1="517.8" y1="259.22" x2="519.3" y2="259.22" stroke="#4d4d4d" stroke-width="0.7"/>
<text x="516.9" y="261.52" font-size="6.4" text-anchor="end" font-weight="normal" fill="#333" stroke="#333" stroke-width="0.12">20</text>
<line x1="517.8" y1="271.66" x2="519.3" y2="271.66" stroke="#4d4d4d" stroke-width="0.7"/>
<text x="516.9" y="273.96" font-size="6.4" text-anchor="end" font-weight="normal" fill="#333" stroke="#333" stroke-width="0.12">10</text>
<line x1="517.8" y1="284.1" x2="519.3" y2="284.1" stroke="#4d4d4d" stroke-width="0.7"/>
<text x="516.9" y="286.4" font-size="6.4" text-anchor="end" font-weight="normal" fill="#333" stroke="#333" stroke-width="0.12">0</text>
<line x1="517.8" y1="296.54" x2="519.3" y2="296.54" stroke="#4d4d4d" stroke-width="0.7"/>
<text x="516.9" y="298.84" font-size="6.4" text-anchor="end" font-weight="normal" fill="#333" stroke="#333" stroke-width="0.12">&#8722;10</text>
<line x1="517.8" y1="296.54" x2="519.3" y2="296.54" stroke="#4d4d4d" stroke-width="0.7"/>
<text x="535.4" y="219.7" font-size="6.5" text-anchor="middle" fill="#1a1a1a" stroke="#1a1a1a" stroke-width="0.12"><tspan>*</tspan><tspan font-style="italic">p</tspan><tspan> &lt; 0.01</tspan></text>
<text x="535.4" y="302.6" font-size="6.5" text-anchor="middle" fill="#1a1a1a" stroke="#1a1a1a" stroke-width="0.12"><tspan>*</tspan><tspan font-style="italic">p</tspan><tspan> &lt; 0.01</tspan></text>
<text x="494.6" y="258.6" font-size="6.8" text-anchor="middle" font-weight="normal" fill="#1a1a1a" stroke="#1a1a1a" stroke-width="0.12" transform="rotate(-90 494.6 258.6)">Peak hip joint angle (deg)</text>
<text x="504.1" y="232.8" font-size="6.7" text-anchor="middle" font-weight="normal" fill="#1a1a1a" stroke="#1a1a1a" stroke-width="0.12" transform="rotate(-90 504.1 232.8)">Flexion</text>
<text x="504.1" y="288.9" font-size="6.7" text-anchor="middle" font-weight="normal" fill="#1a1a1a" stroke="#1a1a1a" stroke-width="0.12" transform="rotate(-90 504.1 288.9)">Extension</text>
<text x="248.6" y="305" font-size="6.8" text-anchor="start" font-weight="normal" fill="#1a1a1a" stroke="#1a1a1a" stroke-width="0.12" transform="rotate(90 248.6 305)">EXO_W</text>
<text x="265.2" y="306" font-size="6.8" text-anchor="start" font-weight="normal" fill="#1a1a1a" stroke="#1a1a1a" stroke-width="0.12" transform="rotate(90 265.2 306)">NE_W</text>
<text x="523.8" y="304.2" font-size="6.8" text-anchor="start" font-weight="normal" fill="#1a1a1a" stroke="#1a1a1a" stroke-width="0.12" transform="rotate(90 523.8 304.2)">EXO_R</text>
<text x="537.8" y="306" font-size="6.8" text-anchor="start" font-weight="normal" fill="#1a1a1a" stroke="#1a1a1a" stroke-width="0.12" transform="rotate(90 537.8 306)">NE_R</text>
<line x1="24.2" y1="358.2" x2="198.5" y2="358.2" stroke="#5a5a5a" stroke-width="1.0"/>
<line x1="25" y1="358.2" x2="25" y2="356.4" stroke="#5a5a5a" stroke-width="0.8"/>
<text x="25" y="367.2" font-size="6.5" text-anchor="middle" font-weight="normal" fill="#222" stroke="#222" stroke-width="0.12">0</text>
<line x1="42.3" y1="358.2" x2="42.3" y2="356.4" stroke="#5a5a5a" stroke-width="0.8"/>
<text x="42.3" y="367.2" font-size="6.5" text-anchor="middle" font-weight="normal" fill="#222" stroke="#222" stroke-width="0.12">10</text>
<line x1="59.6" y1="358.2" x2="59.6" y2="356.4" stroke="#5a5a5a" stroke-width="0.8"/>
<text x="59.6" y="367.2" font-size="6.5" text-anchor="middle" font-weight="normal" fill="#222" stroke="#222" stroke-width="0.12">20</text>
<line x1="76.9" y1="358.2" x2="76.9" y2="356.4" stroke="#5a5a5a" stroke-width="0.8"/>
<text x="76.9" y="367.2" font-size="6.5" text-anchor="middle" font-weight="normal" fill="#222" stroke="#222" stroke-width="0.12">30</text>
<line x1="94.2" y1="358.2" x2="94.2" y2="356.4" stroke="#5a5a5a" stroke-width="0.8"/>
<text x="94.2" y="367.2" font-size="6.5" text-anchor="middle" font-weight="normal" fill="#222" stroke="#222" stroke-width="0.12">40</text>
<line x1="111.5" y1="358.2" x2="111.5" y2="356.4" stroke="#5a5a5a" stroke-width="0.8"/>
<text x="111.5" y="367.2" font-size="6.5" text-anchor="middle" font-weight="normal" fill="#222" stroke="#222" stroke-width="0.12">50</text>
<line x1="128.8" y1="358.2" x2="128.8" y2="356.4" stroke="#5a5a5a" stroke-width="0.8"/>
<text x="128.8" y="367.2" font-size="6.5" text-anchor="middle" font-weight="normal" fill="#222" stroke="#222" stroke-width="0.12">60</text>
<line x1="146.1" y1="358.2" x2="146.1" y2="356.4" stroke="#5a5a5a" stroke-width="0.8"/>
<text x="146.1" y="367.2" font-size="6.5" text-anchor="middle" font-weight="normal" fill="#222" stroke="#222" stroke-width="0.12">70</text>
<line x1="163.4" y1="358.2" x2="163.4" y2="356.4" stroke="#5a5a5a" stroke-width="0.8"/>
<text x="163.4" y="367.2" font-size="6.5" text-anchor="middle" font-weight="normal" fill="#222" stroke="#222" stroke-width="0.12">80</text>
<line x1="180.7" y1="358.2" x2="180.7" y2="356.4" stroke="#5a5a5a" stroke-width="0.8"/>
<text x="180.7" y="367.2" font-size="6.5" text-anchor="middle" font-weight="normal" fill="#222" stroke="#222" stroke-width="0.12">90</text>
<line x1="198" y1="358.2" x2="198" y2="356.4" stroke="#5a5a5a" stroke-width="0.8"/>
<text x="198" y="367.2" font-size="6.5" text-anchor="middle" font-weight="normal" fill="#222" stroke="#222" stroke-width="0.12">100</text>
<line x1="303.4" y1="358.2" x2="478.5" y2="358.2" stroke="#5a5a5a" stroke-width="1.0"/>
<line x1="304.2" y1="358.2" x2="304.2" y2="356.4" stroke="#5a5a5a" stroke-width="0.8"/>
<text x="304.2" y="367.2" font-size="6.5" text-anchor="middle" font-weight="normal" fill="#222" stroke="#222" stroke-width="0.12">0</text>
<line x1="321.58" y1="358.2" x2="321.58" y2="356.4" stroke="#5a5a5a" stroke-width="0.8"/>
<text x="321.58" y="367.2" font-size="6.5" text-anchor="middle" font-weight="normal" fill="#222" stroke="#222" stroke-width="0.12">10</text>
<line x1="338.96" y1="358.2" x2="338.96" y2="356.4" stroke="#5a5a5a" stroke-width="0.8"/>
<text x="338.96" y="367.2" font-size="6.5" text-anchor="middle" font-weight="normal" fill="#222" stroke="#222" stroke-width="0.12">20</text>
<line x1="356.34" y1="358.2" x2="356.34" y2="356.4" stroke="#5a5a5a" stroke-width="0.8"/>
<text x="356.34" y="367.2" font-size="6.5" text-anchor="middle" font-weight="normal" fill="#222" stroke="#222" stroke-width="0.12">30</text>
<line x1="373.72" y1="358.2" x2="373.72" y2="356.4" stroke="#5a5a5a" stroke-width="0.8"/>
<text x="373.72" y="367.2" font-size="6.5" text-anchor="middle" font-weight="normal" fill="#222" stroke="#222" stroke-width="0.12">40</text>
<line x1="391.1" y1="358.2" x2="391.1" y2="356.4" stroke="#5a5a5a" stroke-width="0.8"/>
<text x="391.1" y="367.2" font-size="6.5" text-anchor="middle" font-weight="normal" fill="#222" stroke="#222" stroke-width="0.12">50</text>
<line x1="408.48" y1="358.2" x2="408.48" y2="356.4" stroke="#5a5a5a" stroke-width="0.8"/>
<text x="408.48" y="367.2" font-size="6.5" text-anchor="middle" font-weight="normal" fill="#222" stroke="#222" stroke-width="0.12">60</text>
<line x1="425.86" y1="358.2" x2="425.86" y2="356.4" stroke="#5a5a5a" stroke-width="0.8"/>
<text x="425.86" y="367.2" font-size="6.5" text-anchor="middle" font-weight="normal" fill="#222" stroke="#222" stroke-width="0.12">70</text>
<line x1="443.24" y1="358.2" x2="443.24" y2="356.4" stroke="#5a5a5a" stroke-width="0.8"/>
<text x="443.24" y="367.2" font-size="6.5" text-anchor="middle" font-weight="normal" fill="#222" stroke="#222" stroke-width="0.12">80</text>
<line x1="460.62" y1="358.2" x2="460.62" y2="356.4" stroke="#5a5a5a" stroke-width="0.8"/>
<text x="460.62" y="367.2" font-size="6.5" text-anchor="middle" font-weight="normal" fill="#222" stroke="#222" stroke-width="0.12">90</text>
<line x1="478" y1="358.2" x2="478" y2="356.4" stroke="#5a5a5a" stroke-width="0.8"/>
<text x="478" y="367.2" font-size="6.5" text-anchor="middle" font-weight="normal" fill="#222" stroke="#222" stroke-width="0.12">100</text>
<text x="111.5" y="375" font-size="6.6" text-anchor="middle" font-weight="normal" fill="#1a1a1a" stroke="#1a1a1a" stroke-width="0.12">Gait cycle (%)</text>
<text x="395.2" y="375" font-size="6.6" text-anchor="middle" font-weight="normal" fill="#1a1a1a" stroke="#1a1a1a" stroke-width="0.12">Gait cycle (%)</text>
<g><polyline points="21.5,327.5 17.5,339.5" fill="none" stroke="#d9d9d9" stroke-width="5.4" stroke-linecap="round" stroke-linejoin="round"/><polyline points="17.5,339.5 13.5,349.5" fill="none" stroke="#d9d9d9" stroke-width="4.0" stroke-linecap="round" stroke-linejoin="round"/><polyline points="13.5,349.5 9.5,352.5" fill="none" stroke="#d9d9d9" stroke-width="2.8" stroke-linecap="round" stroke-linejoin="round"/><polyline points="27.5,315 29.5,321 32.3,327" fill="none" stroke="#d9d9d9" stroke-width="2.6" stroke-linecap="round" stroke-linejoin="round"/><polyline points="24.4,308.8 24,312.2" fill="none" stroke="#a6a6a6" stroke-width="3.0" stroke-linecap="round" stroke-linejoin="round"/><polygon points="22.6,311.2 27.4,311.2 28.5,314.5 28.6,319 28.2,324.5 20.3,324.5 19.6,319.5 20.4,314.5" fill="#a6a6a6" stroke="#a6a6a6" stroke-width="0.6" stroke-linejoin="round"/><ellipse cx="25.2" cy="306" rx="3.2" ry="3.8" fill="#a6a6a6"/><polyline points="31,339.8 35.8,349.5" fill="none" stroke="#b4b4b4" stroke-width="4.3" stroke-linecap="round" stroke-linejoin="round"/><polyline points="35.8,349.5 42.5,352" fill="none" stroke="#cbcbcb" stroke-width="3.0" stroke-linecap="round" stroke-linejoin="round"/><polyline points="24.5,327 31,339.8" fill="none" stroke="#c6c6c6" stroke-width="6.6" stroke-linecap="round" stroke-linejoin="round"/><polyline points="21,313.5 18,320 18.3,326.5" fill="none" stroke="#a6a6a6" stroke-width="2.8" stroke-linecap="round" stroke-linejoin="round"/><polyline points="22,328.5 28.5,337.5" fill="none" stroke="#d65858" stroke-width="2.8" stroke-linecap="round" stroke-linejoin="round" stroke-opacity="0.8"/><polyline points="13.8,324 31,340.5" fill="none" stroke="#e04848" stroke-width="0.8" stroke-linecap="round" stroke-linejoin="round"/><polyline points="13.8,324 20.1,324.5" fill="none" stroke="#4a4a4a" stroke-width="0.9" stroke-linecap="round" stroke-linejoin="round"/><polyline points="20.1,324.5 28.1,324.5" fill="none" stroke="#1c1c1c" stroke-width="3.3" stroke-linecap="butt" stroke-linejoin="round"/><polyline points="31.4,341.6 36.9,349.3" fill="none" stroke="#8e8e8e" stroke-width="3.7" stroke-linecap="butt" stroke-linejoin="round"/><polyline points="32.46,340.84 37.96,348.54" fill="none" stroke="#222" stroke-width="1.2" stroke-linecap="butt" stroke-linejoin="round"/><polyline points="30.34,342.36 35.84,350.06" fill="none" stroke="#222" stroke-width="1.2" stroke-linecap="butt" stroke-linejoin="round"/><polyline points="32.91,340.52 29.89,342.68" fill="none" stroke="#222" stroke-width="1.6" stroke-linecap="butt" stroke-linejoin="round"/><polyline points="38.41,348.22 35.39,350.38" fill="none" stroke="#222" stroke-width="1.4" stroke-linecap="butt" stroke-linejoin="round"/></g>
<g><polyline points="65.5,327.5 61.5,339.5" fill="none" stroke="#d9d9d9" stroke-width="5.4" stroke-linecap="round" stroke-linejoin="round"/><polyline points="61.5,339.5 57.5,349.5" fill="none" stroke="#d9d9d9" stroke-width="4.0" stroke-linecap="round" stroke-linejoin="round"/><polyline points="57.5,349.5 60.5,353.3" fill="none" stroke="#d9d9d9" stroke-width="2.8" stroke-linecap="round" stroke-linejoin="round"/><polyline points="72.5,315 74.5,321 76,327.5" fill="none" stroke="#d9d9d9" stroke-width="2.6" stroke-linecap="round" stroke-linejoin="round"/><polyline points="68.7,308.2 68.3,311.6" fill="none" stroke="#a6a6a6" stroke-width="3.0" stroke-linecap="round" stroke-linejoin="round"/><polygon points="67,311.2 71.8,311.2 73.2,315 73.3,319 73,324.5 63.5,324.5 62.6,319 63.5,314.5" fill="#a6a6a6" stroke="#a6a6a6" stroke-width="0.6" stroke-linejoin="round"/><ellipse cx="69.5" cy="305.4" rx="3.5" ry="4" fill="#a6a6a6"/><polyline points="75.6,339.5 76.8,350.5" fill="none" stroke="#b4b4b4" stroke-width="4.3" stroke-linecap="round" stroke-linejoin="round"/><polyline points="76.8,350.5 82.4,352.6" fill="none" stroke="#cbcbcb" stroke-width="3.0" stroke-linecap="round" stroke-linejoin="round"/><polyline points="69,327 75.6,339.5" fill="none" stroke="#c6c6c6" stroke-width="6.6" stroke-linecap="round" stroke-linejoin="round"/><polyline points="65,313.5 63.5,320 64,325.5" fill="none" stroke="#a6a6a6" stroke-width="2.8" stroke-linecap="round" stroke-linejoin="round"/><polyline points="67.5,327.8 71,331.5" fill="none" stroke="#d65858" stroke-width="3.2" stroke-linecap="round" stroke-linejoin="round" stroke-opacity="0.8"/><polyline points="72.5,331 75.3,338.5" fill="none" stroke="#d65858" stroke-width="1.6" stroke-linecap="round" stroke-linejoin="round" stroke-opacity="0.8"/><polyline points="57.5,324.5 67,333" fill="none" stroke="#f2dc8c" stroke-width="0.8" stroke-linecap="round" stroke-linejoin="round"/><polyline points="57.3,323.8 64.3,324.3" fill="none" stroke="#4a4a4a" stroke-width="0.9" stroke-linecap="round" stroke-linejoin="round"/><polyline points="64.3,324.3 72.7,324.3" fill="none" stroke="#1c1c1c" stroke-width="2.9" stroke-linecap="butt" stroke-linejoin="round"/><polyline points="65.2,321 65.2,327" fill="none" stroke="#111" stroke-width="1.6" stroke-linecap="butt" stroke-linejoin="round"/><polyline points="73.8,342 77.4,351" fill="none" stroke="#8e8e8e" stroke-width="3.7" stroke-linecap="butt" stroke-linejoin="round"/><polyline points="75.01,341.52 78.61,350.52" fill="none" stroke="#222" stroke-width="1.2" stroke-linecap="butt" stroke-linejoin="round"/><polyline points="72.59,342.48 76.19,351.48" fill="none" stroke="#222" stroke-width="1.2" stroke-linecap="butt" stroke-linejoin="round"/><polyline points="75.52,341.31 72.08,342.69" fill="none" stroke="#222" stroke-width="1.6" stroke-linecap="butt" stroke-linejoin="round"/><polyline points="79.12,350.31 75.68,351.69" fill="none" stroke="#222" stroke-width="1.4" stroke-linecap="butt" stroke-linejoin="round"/></g>
<g><polyline points="112,329 116.3,340" fill="none" stroke="#b4b4b4" stroke-width="6.0" stroke-linecap="round" stroke-linejoin="round"/><polyline points="116.3,340 122.5,350.5" fill="none" stroke="#b4b4b4" stroke-width="4.3" stroke-linecap="round" stroke-linejoin="round"/><polyline points="122.5,350.5 127.6,353.5" fill="none" stroke="#b4b4b4" stroke-width="2.8" stroke-linecap="round" stroke-linejoin="round"/><polyline points="109.8,308.4 109.4,311.8" fill="none" stroke="#a6a6a6" stroke-width="3.0" stroke-linecap="round" stroke-linejoin="round"/><polygon points="108.6,311.3 113.8,311 114.5,314.5 114.6,319 114.5,326 104.3,326 104.2,319 105.5,314.5" fill="#a6a6a6" stroke="#a6a6a6" stroke-width="0.6" stroke-linejoin="round"/><ellipse cx="110.6" cy="305.6" rx="3.5" ry="3.8" fill="#a6a6a6"/><polyline points="104,342 99.2,350.4" fill="none" stroke="#a6a6a6" stroke-width="4.3" stroke-linecap="round" stroke-linejoin="round"/><polyline points="99.2,350.4 101,355" fill="none" stroke="#cbcbcb" stroke-width="3.0" stroke-linecap="round" stroke-linejoin="round"/><polyline points="108.5,329 104,342" fill="none" stroke="#a6a6a6" stroke-width="6.6" stroke-linecap="round" stroke-linejoin="round"/><polyline points="113,313.5 113,324 121.3,328.5" fill="none" stroke="#a6a6a6" stroke-width="2.8" stroke-linecap="round" stroke-linejoin="round"/><polyline points="100,325.5 99.65,327.73 101.66,329.46 100.53,331.85 102.53,333.58 101.4,335.98 103.41,337.71 102.28,340.1 103.5,342" fill="none" stroke="#6fdc9c" stroke-width="0.65" stroke-linecap="round" stroke-linejoin="round"/><polyline points="99.7,324.4 106.3,324.8" fill="none" stroke="#4a4a4a" stroke-width="0.9" stroke-linecap="round" stroke-linejoin="round"/><polyline points="106.3,324.8 113.4,324.8" fill="none" stroke="#1c1c1c" stroke-width="3.7" stroke-linecap="butt" stroke-linejoin="round"/><polyline points="104,343.3 99.2,350.4" fill="none" stroke="#8e8e8e" stroke-width="3.7" stroke-linecap="butt" stroke-linejoin="round"/><polyline points="105.08,344.03 100.28,351.13" fill="none" stroke="#222" stroke-width="1.2" stroke-linecap="butt" stroke-linejoin="round"/><polyline points="102.92,342.57 98.12,349.67" fill="none" stroke="#222" stroke-width="1.2" stroke-linecap="butt" stroke-linejoin="round"/><polyline points="105.53,344.34 102.47,342.26" fill="none" stroke="#222" stroke-width="1.6" stroke-linecap="butt" stroke-linejoin="round"/><polyline points="100.73,351.44 97.67,349.36" fill="none" stroke="#222" stroke-width="1.4" stroke-linecap="butt" stroke-linejoin="round"/></g>
<g><polyline points="147.5,327.5 147,340" fill="none" stroke="#d9d9d9" stroke-width="5.4" stroke-linecap="round" stroke-linejoin="round"/><polyline points="147,340 146,349" fill="none" stroke="#d9d9d9" stroke-width="4.0" stroke-linecap="round" stroke-linejoin="round"/><polyline points="146,349 151,353" fill="none" stroke="#d9d9d9" stroke-width="2.8" stroke-linecap="round" stroke-linejoin="round"/><polyline points="152.8,315 155,321 157,328" fill="none" stroke="#d9d9d9" stroke-width="2.6" stroke-linecap="round" stroke-linejoin="round"/><polyline points="148.7,308.4 148.3,311.8" fill="none" stroke="#a6a6a6" stroke-width="3.0" stroke-linecap="round" stroke-linejoin="round"/><polygon points="147,311.2 152.3,311.2 153.5,315 153.8,319 153.5,324.5 145,324.5 145,319 145.8,314.5" fill="#a6a6a6" stroke="#a6a6a6" stroke-width="0.6" stroke-linejoin="round"/><ellipse cx="149.5" cy="305.6" rx="3.5" ry="4.2" fill="#a6a6a6"/><polyline points="154,339.5 149.8,349.5" fill="none" stroke="#b4b4b4" stroke-width="4.3" stroke-linecap="round" stroke-linejoin="round"/><polyline points="149.8,349.5 154,353" fill="none" stroke="#cbcbcb" stroke-width="3.0" stroke-linecap="round" stroke-linejoin="round"/><polyline points="150,327 154,339.5" fill="none" stroke="#c6c6c6" stroke-width="6.6" stroke-linecap="round" stroke-linejoin="round"/><polyline points="146.5,313.5 145.5,320 146,325" fill="none" stroke="#a6a6a6" stroke-width="2.8" stroke-linecap="round" stroke-linejoin="round"/><polyline points="150,328.5 153.5,337" fill="none" stroke="#d65858" stroke-width="1.5" stroke-linecap="round" stroke-linejoin="round" stroke-opacity="0.8"/><polyline points="137.5,325 152,340" fill="none" stroke="#f2dc8c" stroke-width="0.8" stroke-linecap="round" stroke-linejoin="round"/><polyline points="137.1,324.5 145,324.2" fill="none" stroke="#4a4a4a" stroke-width="0.9" stroke-linecap="round" stroke-linejoin="round"/><polyline points="145,324.2 153.5,324.2" fill="none" stroke="#1c1c1c" stroke-width="2.8" stroke-linecap="butt" stroke-linejoin="round"/><polyline points="155,341 149.7,349.5" fill="none" stroke="#8e8e8e" stroke-width="3.7" stroke-linecap="butt" stroke-linejoin="round"/><polyline points="156.1,341.69 150.8,350.19" fill="none" stroke="#222" stroke-width="1.2" stroke-linecap="butt" stroke-linejoin="round"/><polyline points="153.9,340.31 148.6,348.81" fill="none" stroke="#222" stroke-width="1.2" stroke-linecap="butt" stroke-linejoin="round"/><polyline points="156.57,341.98 153.43,340.02" fill="none" stroke="#222" stroke-width="1.6" stroke-linecap="butt" stroke-linejoin="round"/><polyline points="151.27,350.48 148.13,348.52" fill="none" stroke="#222" stroke-width="1.4" stroke-linecap="butt" stroke-linejoin="round"/></g>
<g><polyline points="193,327.5 189.5,340" fill="none" stroke="#d9d9d9" stroke-width="5.4" stroke-linecap="round" stroke-linejoin="round"/><polyline points="189.5,340 183.5,349" fill="none" stroke="#d9d9d9" stroke-width="4.0" stroke-linecap="round" stroke-linejoin="round"/><polyline points="183.5,349 187.5,353" fill="none" stroke="#d9d9d9" stroke-width="2.8" stroke-linecap="round" stroke-linejoin="round"/><polyline points="199.5,315 201.5,321 204.3,326.6" fill="none" stroke="#d9d9d9" stroke-width="2.6" stroke-linecap="round" stroke-linejoin="round"/><polyline points="195.7,308.6 195.3,312" fill="none" stroke="#a6a6a6" stroke-width="3.0" stroke-linecap="round" stroke-linejoin="round"/><polygon points="193.8,311.2 199.3,311.2 200.3,315 200.3,319 200,324.3 191,324.3 190.2,319 191.5,314.5" fill="#a6a6a6" stroke="#a6a6a6" stroke-width="0.6" stroke-linejoin="round"/><ellipse cx="196.5" cy="305.8" rx="3.2" ry="4" fill="#a6a6a6"/><polyline points="204.5,341 207.5,350" fill="none" stroke="#b4b4b4" stroke-width="4.3" stroke-linecap="round" stroke-linejoin="round"/><polyline points="207.5,350 213.5,352" fill="none" stroke="#cbcbcb" stroke-width="3.0" stroke-linecap="round" stroke-linejoin="round"/><polyline points="196,327 204.5,341" fill="none" stroke="#c6c6c6" stroke-width="6.6" stroke-linecap="round" stroke-linejoin="round"/><polyline points="192,313.5 189.5,320 189.5,328.5" fill="none" stroke="#a6a6a6" stroke-width="2.8" stroke-linecap="round" stroke-linejoin="round"/><polyline points="185.4,323.3 205.5,341" fill="none" stroke="#e04848" stroke-width="0.8" stroke-linecap="round" stroke-linejoin="round"/><polyline points="185.4,323.5 191.6,323.9" fill="none" stroke="#4a4a4a" stroke-width="0.9" stroke-linecap="round" stroke-linejoin="round"/><polyline points="191.6,323.9 198.9,323.9" fill="none" stroke="#1c1c1c" stroke-width="3.6" stroke-linecap="butt" stroke-linejoin="round"/><polyline points="202.8,341.5 207.6,350" fill="none" stroke="#8e8e8e" stroke-width="3.7" stroke-linecap="butt" stroke-linejoin="round"/><polyline points="203.93,340.86 208.73,349.36" fill="none" stroke="#222" stroke-width="1.2" stroke-linecap="butt" stroke-linejoin="round"/><polyline points="201.67,342.14 206.47,350.64" fill="none" stroke="#222" stroke-width="1.2" stroke-linecap="butt" stroke-linejoin="round"/><polyline points="204.41,340.59 201.19,342.41" fill="none" stroke="#222" stroke-width="1.6" stroke-linecap="butt" stroke-linejoin="round"/><polyline points="209.21,349.09 205.99,350.91" fill="none" stroke="#222" stroke-width="1.4" stroke-linecap="butt" stroke-linejoin="round"/></g>
<g><polyline points="300,329 296.9,340.5" fill="none" stroke="#d2d2d2" stroke-width="5.8" stroke-linecap="round" stroke-linejoin="round"/><polyline points="296.9,340.5 285.1,332.9" fill="none" stroke="#d2d2d2" stroke-width="4.5" stroke-linecap="round" stroke-linejoin="round"/><polyline points="285.1,332.9 279.9,340" fill="none" stroke="#d2d2d2" stroke-width="3.4" stroke-linecap="round" stroke-linejoin="round"/><polyline points="305.8,315 305.8,319.5 310.3,320.2" fill="none" stroke="#a6a6a6" stroke-width="3.0" stroke-linecap="round" stroke-linejoin="round"/><polyline points="306.2,310.4 305.8,313.8" fill="none" stroke="#a6a6a6" stroke-width="3.0" stroke-linecap="round" stroke-linejoin="round"/><polygon points="302.92,312.3 307.29,312.5 308.21,316 307.52,320 306.94,323.5 299.47,323.5 298.32,318 297.74,314" fill="#a6a6a6" stroke="#a6a6a6" stroke-width="0.6" stroke-linejoin="round"/><ellipse cx="307" cy="307.6" rx="3.7" ry="4.2" fill="#a6a6a6"/><polyline points="309,339.5 309.7,349.5" fill="none" stroke="#b4b4b4" stroke-width="4.5" stroke-linecap="round" stroke-linejoin="round"/><polyline points="309.7,349.5 317.8,352.8" fill="none" stroke="#cbcbcb" stroke-width="3.2" stroke-linecap="round" stroke-linejoin="round"/><polyline points="301.5,327 309,339.5" fill="none" stroke="#c6c6c6" stroke-width="7.2" stroke-linecap="round" stroke-linejoin="round"/><polyline points="299.5,313.8 293.3,315.3 294.8,320.2" fill="none" stroke="#a6a6a6" stroke-width="3.4" stroke-linecap="round" stroke-linejoin="round"/><polyline points="299.5,328.5 304.5,333.5" fill="none" stroke="#d65858" stroke-width="3.6" stroke-linecap="round" stroke-linejoin="round" stroke-opacity="0.8"/><polyline points="291.4,322.3 309,339.5" fill="none" stroke="#e04848" stroke-width="0.8" stroke-linecap="round" stroke-linejoin="round"/><polyline points="291.4,322.3 297.7,323.2" fill="none" stroke="#4a4a4a" stroke-width="0.9" stroke-linecap="round" stroke-linejoin="round"/><polyline points="297.7,323.2 304.8,324.8" fill="none" stroke="#1c1c1c" stroke-width="4.0" stroke-linecap="butt" stroke-linejoin="round"/><polyline points="308.6,340.3 309.6,349" fill="none" stroke="#8e8e8e" stroke-width="3.7" stroke-linecap="butt" stroke-linejoin="round"/><polyline points="309.89,340.15 310.89,348.85" fill="none" stroke="#222" stroke-width="1.2" stroke-linecap="butt" stroke-linejoin="round"/><polyline points="307.31,340.45 308.31,349.15" fill="none" stroke="#222" stroke-width="1.2" stroke-linecap="butt" stroke-linejoin="round"/><polyline points="310.44,340.09 306.76,340.51" fill="none" stroke="#222" stroke-width="1.6" stroke-linecap="butt" stroke-linejoin="round"/><polyline points="311.44,348.79 307.76,349.21" fill="none" stroke="#222" stroke-width="1.4" stroke-linecap="butt" stroke-linejoin="round"/></g>
<g><polyline points="355.5,328 353,339" fill="none" stroke="#d6d6d6" stroke-width="5.8" stroke-linecap="round" stroke-linejoin="round"/><polyline points="353,339 346.5,336.5" fill="none" stroke="#d6d6d6" stroke-width="4.5" stroke-linecap="round" stroke-linejoin="round"/><polyline points="346.5,336.5 343,344.5" fill="none" stroke="#d6d6d6" stroke-width="3.4" stroke-linecap="round" stroke-linejoin="round"/><polyline points="357.5,328 361.3,339.5" fill="none" stroke="#d4d4d4" stroke-width="5.0" stroke-linecap="round" stroke-linejoin="round"/><polyline points="359.5,315 358.5,321.5 364.9,324.9" fill="none" stroke="#a6a6a6" stroke-width="3.0" stroke-linecap="round" stroke-linejoin="round"/><polyline points="360.4,309.8 360,313.2" fill="none" stroke="#a6a6a6" stroke-width="3.0" stroke-linecap="round" stroke-linejoin="round"/><polygon points="354.91,312.2 361.24,312.5 361.69,318 358.94,324.5 349.74,324.5 350.08,318 352.61,313.8" fill="#a6a6a6" stroke="#a6a6a6" stroke-width="0.6" stroke-linejoin="round"/><ellipse cx="361.2" cy="307" rx="4" ry="4" fill="#a6a6a6"/><polyline points="355,341 351,350.4" fill="none" stroke="#b4b4b4" stroke-width="4.6" stroke-linecap="round" stroke-linejoin="round"/><polyline points="346.5,353.3 355.5,354.2" fill="none" stroke="#cbcbcb" stroke-width="3.0" stroke-linecap="round" stroke-linejoin="round"/><polyline points="353.5,327 355,341" fill="none" stroke="#c6c6c6" stroke-width="7.2" stroke-linecap="round" stroke-linejoin="round"/><polyline points="353.5,314 350.5,318 351,322" fill="none" stroke="#a6a6a6" stroke-width="3.4" stroke-linecap="round" stroke-linejoin="round"/><polyline points="350.8,328.5 352.5,335.5" fill="none" stroke="#d65858" stroke-width="3.4" stroke-linecap="round" stroke-linejoin="round" stroke-opacity="0.8"/><polyline points="356.3,330.5 357.2,339" fill="none" stroke="#d65858" stroke-width="1.5" stroke-linecap="round" stroke-linejoin="round" stroke-opacity="0.8"/><polyline points="343,323 350,335" fill="none" stroke="#f2dc8c" stroke-width="0.8" stroke-linecap="round" stroke-linejoin="round"/><polyline points="343,322.7 349.7,323.7" fill="none" stroke="#4a4a4a" stroke-width="0.9" stroke-linecap="round" stroke-linejoin="round"/><polyline points="349.7,323.7 358.1,326.2" fill="none" stroke="#1c1c1c" stroke-width="2.6" stroke-linecap="butt" stroke-linejoin="round"/><polyline points="351,321 351,326.5" fill="none" stroke="#111" stroke-width="2.6" stroke-linecap="butt" stroke-linejoin="round"/><polyline points="355.5,341.9 350.8,350.4" fill="none" stroke="#8e8e8e" stroke-width="4.3" stroke-linecap="butt" stroke-linejoin="round"/><polyline points="356.9,342.67 352.2,351.17" fill="none" stroke="#222" stroke-width="1.2" stroke-linecap="butt" stroke-linejoin="round"/><polyline points="354.1,341.13 349.4,349.63" fill="none" stroke="#222" stroke-width="1.2" stroke-linecap="butt" stroke-linejoin="round"/><polyline points="357.38,342.94 353.62,340.86" fill="none" stroke="#222" stroke-width="1.6" stroke-linecap="butt" stroke-linejoin="round"/><polyline points="352.68,351.44 348.92,349.36" fill="none" stroke="#222" stroke-width="1.4" stroke-linecap="butt" stroke-linejoin="round"/></g>
<g><polyline points="399.5,325.5 408.5,330" fill="none" stroke="#b9b9b9" stroke-width="6.0" stroke-linecap="round" stroke-linejoin="round"/><polyline points="408.5,330 406,345" fill="none" stroke="#b9b9b9" stroke-width="4.5" stroke-linecap="round" stroke-linejoin="round"/><polyline points="406,345 411,347.5" fill="none" stroke="#b9b9b9" stroke-width="3.0" stroke-linecap="round" stroke-linejoin="round"/><polyline points="402,312 402.1,317.8 406.7,312.3" fill="none" stroke="#a6a6a6" stroke-width="3.0" stroke-linecap="round" stroke-linejoin="round"/><polyline points="399.4,306.7 399,310.1" fill="none" stroke="#a6a6a6" stroke-width="3.0" stroke-linecap="round" stroke-linejoin="round"/><polygon points="396.19,309.5 403.08,310.5 403.43,314 402.51,318 401.36,322.5 393.31,322.5 393.88,317 395.04,312" fill="#a6a6a6" stroke="#a6a6a6" stroke-width="0.6" stroke-linejoin="round"/><ellipse cx="400.2" cy="303.9" rx="4" ry="4.2" fill="#a6a6a6"/><polyline points="388,339 381,345.3" fill="none" stroke="#a6a6a6" stroke-width="4.6" stroke-linecap="round" stroke-linejoin="round"/><polyline points="381,345.3 378.5,353.5" fill="none" stroke="#cbcbcb" stroke-width="3.8" stroke-linecap="round" stroke-linejoin="round"/><polyline points="397.5,325 388,339" fill="none" stroke="#a6a6a6" stroke-width="6.6" stroke-linecap="round" stroke-linejoin="round"/><polyline points="395,311.2 388.8,312 393.3,315.7" fill="none" stroke="#a6a6a6" stroke-width="3.4" stroke-linecap="round" stroke-linejoin="round"/><polyline points="387.5,321.5 386.7,323.56 388.3,325.62 386.7,327.69 388.3,329.75 386.7,331.81 388.3,333.88 386.7,335.94 387.5,338" fill="none" stroke="#6fdc9c" stroke-width="0.65" stroke-linecap="round" stroke-linejoin="round"/><polyline points="387.4,320.3 394.1,321.3" fill="none" stroke="#4a4a4a" stroke-width="0.9" stroke-linecap="round" stroke-linejoin="round"/><polyline points="394.1,321.3 400.8,321.3" fill="none" stroke="#1c1c1c" stroke-width="4.6" stroke-linecap="butt" stroke-linejoin="round"/><polyline points="388,338.5 381,345.2" fill="none" stroke="#8e8e8e" stroke-width="4.3" stroke-linecap="butt" stroke-linejoin="round"/><polyline points="389.11,339.66 382.11,346.36" fill="none" stroke="#222" stroke-width="1.2" stroke-linecap="butt" stroke-linejoin="round"/><polyline points="386.89,337.34 379.89,344.04" fill="none" stroke="#222" stroke-width="1.2" stroke-linecap="butt" stroke-linejoin="round"/><polyline points="389.49,340.05 386.51,336.95" fill="none" stroke="#222" stroke-width="1.6" stroke-linecap="butt" stroke-linejoin="round"/><polyline points="382.49,346.75 379.51,343.65" fill="none" stroke="#222" stroke-width="1.4" stroke-linecap="butt" stroke-linejoin="round"/></g>
<g><polyline points="430.5,326.5 428.7,340.1" fill="none" stroke="#d4d4d4" stroke-width="5.8" stroke-linecap="round" stroke-linejoin="round"/><polyline points="428.7,340.1 423,350" fill="none" stroke="#d4d4d4" stroke-width="4.5" stroke-linecap="round" stroke-linejoin="round"/><polyline points="423,350 427.2,353.8" fill="none" stroke="#d4d4d4" stroke-width="3.4" stroke-linecap="round" stroke-linejoin="round"/><polyline points="437.5,315.5 437,321 443.2,321.2" fill="none" stroke="#a6a6a6" stroke-width="3.0" stroke-linecap="round" stroke-linejoin="round"/><polyline points="436.5,308.4 436.1,311.8" fill="none" stroke="#a6a6a6" stroke-width="3.0" stroke-linecap="round" stroke-linejoin="round"/><polygon points="433.43,311.5 438.6,312.3 439.29,316 438.6,319.5 436.65,323 428.83,323 427.68,319 428.83,314" fill="#a6a6a6" stroke="#a6a6a6" stroke-width="0.6" stroke-linejoin="round"/><ellipse cx="437.3" cy="305.6" rx="3.4" ry="4.2" fill="#a6a6a6"/><polyline points="443.5,332.7 434,342.7" fill="none" stroke="#b4b4b4" stroke-width="4.5" stroke-linecap="round" stroke-linejoin="round"/><polyline points="434,342.7 435,349" fill="none" stroke="#cbcbcb" stroke-width="3.2" stroke-linecap="round" stroke-linejoin="round"/><polyline points="433,325.5 443.5,332.7" fill="none" stroke="#c6c6c6" stroke-width="7.2" stroke-linecap="round" stroke-linejoin="round"/><polyline points="430.5,313.5 425.9,314.8 425.8,319.5" fill="none" stroke="#a6a6a6" stroke-width="3.4" stroke-linecap="round" stroke-linejoin="round"/><polyline points="434,327.5 441.5,332.5" fill="none" stroke="#e8a060" stroke-width="1.4" stroke-linecap="round" stroke-linejoin="round" stroke-opacity="0.8"/><polyline points="424,320.5 437,332" fill="none" stroke="#f2dc8c" stroke-width="0.8" stroke-linecap="round" stroke-linejoin="round"/><polyline points="423.8,320.3 429.7,321.8" fill="none" stroke="#4a4a4a" stroke-width="0.9" stroke-linecap="round" stroke-linejoin="round"/><polyline points="429.7,321.8 436,323.8" fill="none" stroke="#1c1c1c" stroke-width="3.4" stroke-linecap="butt" stroke-linejoin="round"/><polyline points="430.2,319.5 430.2,325" fill="none" stroke="#111" stroke-width="1.6" stroke-linecap="butt" stroke-linejoin="round"/><polyline points="442,335 434.2,342.7" fill="none" stroke="#8e8e8e" stroke-width="3.7" stroke-linecap="butt" stroke-linejoin="round"/><polyline points="442.91,335.93 435.11,343.63" fill="none" stroke="#222" stroke-width="1.2" stroke-linecap="butt" stroke-linejoin="round"/><polyline points="441.09,334.07 433.29,341.77" fill="none" stroke="#222" stroke-width="1.2" stroke-linecap="butt" stroke-linejoin="round"/><polyline points="443.3,336.32 440.7,333.68" fill="none" stroke="#222" stroke-width="1.6" stroke-linecap="butt" stroke-linejoin="round"/><polyline points="435.5,344.02 432.9,341.38" fill="none" stroke="#222" stroke-width="1.4" stroke-linecap="butt" stroke-linejoin="round"/></g>
<g><polyline points="472,329 470,342" fill="none" stroke="#d2d2d2" stroke-width="5.8" stroke-linecap="round" stroke-linejoin="round"/><polyline points="470,342 457,333" fill="none" stroke="#d2d2d2" stroke-width="4.5" stroke-linecap="round" stroke-linejoin="round"/><polyline points="457,333 453.5,341" fill="none" stroke="#d2d2d2" stroke-width="3.4" stroke-linecap="round" stroke-linejoin="round"/><polyline points="477.5,315.5 477.5,320.5 480.7,319.8" fill="none" stroke="#a6a6a6" stroke-width="3.0" stroke-linecap="round" stroke-linejoin="round"/><polyline points="477.2,310 476.8,313.4" fill="none" stroke="#a6a6a6" stroke-width="3.0" stroke-linecap="round" stroke-linejoin="round"/><polygon points="474.45,312.5 478.48,313 479.4,316 478.82,319.5 477.33,324 470.43,324 469.85,319 469.85,314.5" fill="#a6a6a6" stroke="#a6a6a6" stroke-width="0.6" stroke-linejoin="round"/><ellipse cx="478" cy="307.2" rx="3.3" ry="3.9" fill="#a6a6a6"/><polyline points="480,339.5 480.5,349" fill="none" stroke="#b4b4b4" stroke-width="4.5" stroke-linecap="round" stroke-linejoin="round"/><polyline points="480.5,349 488,352.5" fill="none" stroke="#cbcbcb" stroke-width="3.2" stroke-linecap="round" stroke-linejoin="round"/><polyline points="473.5,327 480,339.5" fill="none" stroke="#c6c6c6" stroke-width="7.2" stroke-linecap="round" stroke-linejoin="round"/><polyline points="471.5,313.8 465.2,314.3 466.4,320.2" fill="none" stroke="#a6a6a6" stroke-width="3.4" stroke-linecap="round" stroke-linejoin="round"/><polyline points="463.5,322.3 480,339" fill="none" stroke="#e04848" stroke-width="0.8" stroke-linecap="round" stroke-linejoin="round"/><polyline points="463.5,322.3 469,323.5" fill="none" stroke="#4a4a4a" stroke-width="0.9" stroke-linecap="round" stroke-linejoin="round"/><polyline points="469,323.5 476.1,325" fill="none" stroke="#1c1c1c" stroke-width="4.0" stroke-linecap="butt" stroke-linejoin="round"/><polyline points="480,340.2 480.5,348.5" fill="none" stroke="#8e8e8e" stroke-width="3.7" stroke-linecap="butt" stroke-linejoin="round"/><polyline points="481.3,340.12 481.8,348.42" fill="none" stroke="#222" stroke-width="1.2" stroke-linecap="butt" stroke-linejoin="round"/><polyline points="478.7,340.28 479.2,348.58" fill="none" stroke="#222" stroke-width="1.2" stroke-linecap="butt" stroke-linejoin="round"/><polyline points="481.85,340.09 478.15,340.31" fill="none" stroke="#222" stroke-width="1.6" stroke-linecap="butt" stroke-linejoin="round"/><polyline points="482.35,348.39 478.65,348.61" fill="none" stroke="#222" stroke-width="1.4" stroke-linecap="butt" stroke-linejoin="round"/></g>
</svg></body></html>
